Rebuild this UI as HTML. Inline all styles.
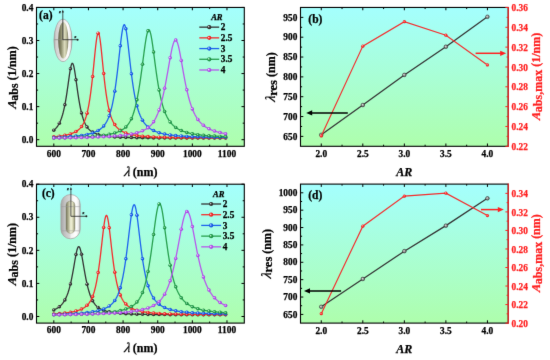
<!DOCTYPE html>
<html><head><meta charset="utf-8"><title>Figure</title>
<style>
html,body{margin:0;padding:0;background:#fff;}
body{width:550px;height:360px;overflow:hidden;}
svg{display:block;}
svg text{font-family:"Liberation Serif", "Times New Roman", serif;stroke:currentColor;stroke-width:0.25px;}
</style></head>
<body>
<svg width="550" height="360" viewBox="0 0 550 360">
<filter id="soft" x="0" y="0" width="550" height="360" filterUnits="userSpaceOnUse" color-interpolation-filters="sRGB"><feConvolveMatrix order="3" kernelMatrix="0.00524 0.06192 0.00524 0.06192 0.73137 0.06192 0.00524 0.06192 0.00524" edgeMode="duplicate" preserveAlpha="true"/></filter>
<g filter="url(#soft)">
<defs>
<linearGradient id="bg" x1="0" y1="0" x2="0" y2="1"><stop offset="0" stop-color="#a4fffe"/><stop offset="1" stop-color="#aefeac"/></linearGradient>
<radialGradient id="mk" cx="0.5" cy="0.5" r="0.55" fx="0.3" fy="0.35"><stop offset="0" stop-color="#d8d8d8"/><stop offset="0.5" stop-color="#333333"/><stop offset="1" stop-color="#303030"/></radialGradient>
<radialGradient id="mr" cx="0.5" cy="0.5" r="0.55" fx="0.3" fy="0.35"><stop offset="0" stop-color="#ffe0e0"/><stop offset="0.5" stop-color="#f42c2c"/><stop offset="1" stop-color="#e01818"/></radialGradient>
<radialGradient id="mb" cx="0.5" cy="0.5" r="0.55" fx="0.3" fy="0.35"><stop offset="0" stop-color="#d0e0ff"/><stop offset="0.5" stop-color="#1d62ee"/><stop offset="1" stop-color="#0c48d0"/></radialGradient>
<radialGradient id="mg" cx="0.5" cy="0.5" r="0.55" fx="0.3" fy="0.35"><stop offset="0" stop-color="#d0f4da"/><stop offset="0.5" stop-color="#27a04e"/><stop offset="1" stop-color="#108038"/></radialGradient>
<radialGradient id="mp" cx="0.5" cy="0.5" r="0.55" fx="0.3" fy="0.35"><stop offset="0" stop-color="#f8e4ff"/><stop offset="0.5" stop-color="#b658ec"/><stop offset="1" stop-color="#9c38dc"/></radialGradient>
<radialGradient id="mk2" cx="0.5" cy="0.5" r="0.55" fx="0.35" fy="0.35"><stop offset="0" stop-color="#e8e8e8"/><stop offset="0.6" stop-color="#8a8a8a"/><stop offset="1" stop-color="#444"/></radialGradient>
<radialGradient id="mr2" cx="0.5" cy="0.5" r="0.55" fx="0.35" fy="0.35"><stop offset="0" stop-color="#ffb0b0"/><stop offset="0.5" stop-color="#ff3030"/><stop offset="1" stop-color="#e81010"/></radialGradient>
<linearGradient id="shell" x1="0" y1="0" x2="1" y2="0"><stop offset="0" stop-color="#aca6a6"/><stop offset="0.12" stop-color="#d2d0d0"/><stop offset="0.45" stop-color="#e6e6e6"/><stop offset="0.78" stop-color="#ffffff"/><stop offset="0.9" stop-color="#eeeeee"/><stop offset="1" stop-color="#a49e9e"/></linearGradient>
<linearGradient id="core" x1="0" y1="0" x2="1" y2="0"><stop offset="0" stop-color="#5e5e46"/><stop offset="0.28" stop-color="#8c8c6c"/><stop offset="0.62" stop-color="#dadabc"/><stop offset="0.8" stop-color="#c2c2a2"/><stop offset="1" stop-color="#7c7c62"/></linearGradient>
<linearGradient id="cshell" x1="0" y1="0" x2="1" y2="0"><stop offset="0" stop-color="#a4a4a4"/><stop offset="0.2" stop-color="#c2c2c2"/><stop offset="0.45" stop-color="#d6d6d6"/><stop offset="0.55" stop-color="#f4f4f4"/><stop offset="0.78" stop-color="#ffffff"/><stop offset="0.9" stop-color="#eeeeee"/><stop offset="1" stop-color="#aaaaaa"/></linearGradient>
<linearGradient id="ccore" x1="0" y1="0" x2="1" y2="0"><stop offset="0" stop-color="#74745a"/><stop offset="0.3" stop-color="#b8b898"/><stop offset="0.55" stop-color="#f4f4dc"/><stop offset="0.75" stop-color="#d8d8b8"/><stop offset="1" stop-color="#8c8c70"/></linearGradient>
</defs>
<rect x="0" y="0" width="550" height="360" fill="#ffffff"/>
<rect x="36.5" y="7.45" width="207.8" height="138.85" fill="url(#bg)"/>
<polyline fill="none" stroke="#333333" stroke-width="1.3" stroke-linejoin="round" points="53.82,130.28 54.16,129.99 54.51,129.68 54.86,129.36 55.2,129.03 55.55,128.67 55.89,128.3 56.24,127.9 56.59,127.49 56.93,127.05 57.28,126.58 57.63,126.09 57.97,125.57 58.32,125.01 58.67,124.43 59.01,123.8 59.36,123.14 59.7,122.44 60.05,121.7 60.4,120.9 60.74,120.06 61.09,119.16 61.44,118.21 61.78,117.2 62.13,116.12 62.48,114.97 62.82,113.75 63.17,112.46 63.51,111.08 63.86,109.63 64.21,108.08 64.55,106.44 64.9,104.71 65.25,102.89 65.59,100.96 65.94,98.94 66.28,96.83 66.63,94.62 66.98,92.33 67.32,89.96 67.67,87.53 68.02,85.06 68.36,82.55 68.71,80.05 69.06,77.57 69.4,75.16 69.75,72.85 70.09,70.7 70.44,68.74 70.79,67.01 71.13,65.57 71.48,64.45 71.83,63.69 72.17,63.3 72.52,63.3 72.87,63.67 73.21,64.41 73.56,65.49 73.9,66.89 74.25,68.57 74.6,70.49 74.94,72.6 75.29,74.86 75.64,77.24 75.98,79.7 76.33,82.19 76.67,84.7 77.02,87.19 77.37,89.64 77.71,92.05 78.06,94.38 78.41,96.65 78.75,98.82 79.1,100.91 79.45,102.91 79.79,104.81 80.14,106.62 80.48,108.34 80.83,109.96 81.18,111.49 81.52,112.94 81.87,114.3 82.22,115.59 82.56,116.79 82.91,117.92 83.25,118.98 83.6,119.97 83.95,120.9 84.29,121.78 84.64,122.59 84.99,123.35 85.33,124.07 85.68,124.74 86.03,125.36 86.37,125.95 86.72,126.49 87.06,127.01 87.41,127.49 87.76,127.94 88.1,128.36 88.45,128.76 88.8,129.14 89.14,129.49 89.49,129.82 89.84,130.14 90.18,130.43 90.53,130.71 90.87,130.98 91.22,131.23 91.57,131.47 91.91,131.7 92.26,131.91 92.61,132.12 92.95,132.31 93.3,132.5 93.65,132.68 93.99,132.85 94.34,133.01 94.68,133.17 95.03,133.32 95.38,133.46 95.72,133.6 96.07,133.73 96.42,133.86 96.76,133.98 97.11,134.09 97.45,134.21 97.8,134.31 98.15,134.42 98.49,134.52 98.84,134.62 99.19,134.71 99.53,134.8 99.88,134.88 100.23,134.97 100.57,135.05 100.92,135.13 101.26,135.2 101.61,135.27 101.96,135.34 102.3,135.41 102.65,135.48 103,135.54 103.34,135.6 103.69,135.66 104.04,135.72 104.38,135.78 104.73,135.83 105.07,135.88 105.42,135.93 105.77,135.98 106.11,136.03 106.46,136.08 106.81,136.12 107.15,136.17 107.5,136.21 107.84,136.25 108.19,136.29 108.54,136.33 108.88,136.37 109.23,136.41 109.58,136.44 109.92,136.48 110.27,136.51 110.62,136.54 110.96,136.58 111.31,136.61 111.65,136.64 112,136.67 112.35,136.7 112.69,136.73 113.04,136.75 113.39,136.78 113.73,136.81 114.08,136.83 114.43,136.86 114.77,136.88 115.12,136.9 115.46,136.93 115.81,136.95 116.16,136.97 116.5,136.99 116.85,137.01 117.2,137.03 117.54,137.05 117.89,137.07 118.23,137.09 118.58,137.11 118.93,137.13 119.27,137.15 119.62,137.16 119.97,137.18 120.31,137.2 120.66,137.21 121.01,137.23 121.35,137.24 121.7,137.26 122.04,137.27 122.39,137.29 122.74,137.3 123.08,137.32 123.43,137.33 123.78,137.34 124.12,137.36 124.47,137.37 124.81,137.38 125.16,137.39 125.51,137.41 125.85,137.42 126.2,137.43 126.55,137.44 126.89,137.45 127.24,137.46 127.59,137.47 127.93,137.48 128.28,137.49 128.62,137.5 128.97,137.51 129.32,137.52 129.66,137.53 130.01,137.54 130.36,137.55 130.7,137.56 131.05,137.56 131.4,137.57 131.74,137.58 132.09,137.59 132.43,137.6 132.78,137.6 133.13,137.61 133.47,137.62 133.82,137.63 134.17,137.63 134.51,137.64 134.86,137.65 135.2,137.65 135.55,137.66 135.9,137.67 136.24,137.67 136.59,137.68 136.94,137.69 137.28,137.69 137.63,137.7 137.98,137.7 138.32,137.71 138.67,137.71 139.01,137.72 139.36,137.73 139.71,137.73 140.05,137.74 140.4,137.74 140.75,137.75 141.09,137.75 141.44,137.76 141.79,137.76 142.13,137.76 142.48,137.77 142.82,137.77 143.17,137.78 143.52,137.78 143.86,137.79 144.21,137.79 144.56,137.79 144.9,137.8 145.25,137.8 145.6,137.81 145.94,137.81 146.29,137.81 146.63,137.82 146.98,137.82 147.33,137.82 147.67,137.83 148.02,137.83 148.37,137.83 148.71,137.84 149.06,137.84 149.4,137.84 149.75,137.85 150.1,137.85 150.44,137.85 150.79,137.85 151.14,137.86 151.48,137.86 151.83,137.86 152.18,137.87 152.52,137.87 152.87,137.87 153.21,137.87 153.56,137.88 153.91,137.88 154.25,137.88 154.6,137.88 154.95,137.88 155.29,137.89 155.64,137.89 155.99,137.89 156.33,137.89 156.68,137.9 157.02,137.9 157.37,137.9 157.72,137.9 158.06,137.9 158.41,137.9 158.76,137.91 159.1,137.91 159.45,137.91 159.79,137.91 160.14,137.91 160.49,137.92 160.83,137.92 161.18,137.92 161.53,137.92 161.87,137.92 162.22,137.92 162.57,137.92 162.91,137.93 163.26,137.93 163.6,137.93 163.95,137.93 164.3,137.93 164.64,137.93 164.99,137.93 165.34,137.93 165.68,137.94 166.03,137.94 166.38,137.94 166.72,137.94 167.07,137.94 167.41,137.94 167.76,137.94 168.11,137.94 168.45,137.94 168.8,137.94 169.15,137.95 169.49,137.95 169.84,137.95 170.18,137.95 170.53,137.95 170.88,137.95 171.22,137.95 171.57,137.95 171.92,137.95 172.26,137.95 172.61,137.95 172.96,137.95 173.3,137.95 173.65,137.96 173.99,137.96 174.34,137.96 174.69,137.96 175.03,137.96 175.38,137.96 175.73,137.96 176.07,137.96 176.42,137.96 176.77,137.96 177.11,137.96 177.46,137.96 177.8,137.96 178.15,137.96 178.5,137.96 178.84,137.96 179.19,137.96 179.54,137.96 179.88,137.96 180.23,137.96 180.57,137.96 180.92,137.96 181.27,137.96 181.61,137.96 181.96,137.96 182.31,137.96 182.65,137.97 183,137.97 183.35,137.97 183.69,137.97 184.04,137.97 184.38,137.97 184.73,137.97 185.08,137.97 185.42,137.97 185.77,137.97 186.12,137.97 186.46,137.97 186.81,137.97 187.16,137.97 187.5,137.97 187.85,137.97 188.19,137.97 188.54,137.97 188.89,137.97 189.23,137.97 189.58,137.97 189.93,137.97 190.27,137.97 190.62,137.97 190.96,137.97 191.31,137.97 191.66,137.97 192,137.97 192.35,137.97 192.7,137.96 193.04,137.96 193.39,137.96 193.74,137.96 194.08,137.96 194.43,137.96 194.77,137.96 195.12,137.96 195.47,137.96 195.81,137.96 196.16,137.96 196.51,137.96 196.85,137.96 197.2,137.96 197.55,137.96 197.89,137.96 198.24,137.96 198.58,137.96 198.93,137.96 199.28,137.96 199.62,137.96 199.97,137.96 200.32,137.96 200.66,137.96 201.01,137.96 201.35,137.96 201.7,137.96 202.05,137.96 202.39,137.96 202.74,137.96 203.09,137.96 203.43,137.96 203.78,137.96 204.13,137.95 204.47,137.95 204.82,137.95 205.16,137.95 205.51,137.95 205.86,137.95 206.2,137.95 206.55,137.95 206.9,137.95 207.24,137.95 207.59,137.95 207.94,137.95 208.28,137.95 208.63,137.95 208.97,137.95 209.32,137.95 209.67,137.95 210.01,137.95 210.36,137.95 210.71,137.94 211.05,137.94 211.4,137.94 211.74,137.94 212.09,137.94 212.44,137.94 212.78,137.94 213.13,137.94 213.48,137.94 213.82,137.94 214.17,137.94 214.52,137.94 214.86,137.94 215.21,137.94 215.55,137.94 215.9,137.94 216.25,137.94 216.59,137.93 216.94,137.93 217.29,137.93 217.63,137.93 217.98,137.93 218.33,137.93 218.67,137.93 219.02,137.93 219.36,137.93 219.71,137.93 220.06,137.93 220.4,137.93 220.75,137.93 221.1,137.93 221.44,137.93 221.79,137.92 222.13,137.92 222.48,137.92 222.83,137.92 223.17,137.92 223.52,137.92 223.87,137.92 224.21,137.92 224.56,137.92 224.91,137.92 225.25,137.92 225.6,137.92 225.94,137.92 226.29,137.91 226.64,137.91 226.98,137.91"/>
<circle cx="53.82" cy="130.28" r="1.75" fill="url(#mk)"/>
<circle cx="59.36" cy="123.14" r="1.75" fill="url(#mk)"/>
<circle cx="64.9" cy="104.71" r="1.75" fill="url(#mk)"/>
<circle cx="70.44" cy="68.74" r="1.75" fill="url(#mk)"/>
<circle cx="75.98" cy="79.7" r="1.75" fill="url(#mk)"/>
<circle cx="81.52" cy="112.94" r="1.75" fill="url(#mk)"/>
<circle cx="87.06" cy="127.01" r="1.75" fill="url(#mk)"/>
<circle cx="92.61" cy="132.12" r="1.75" fill="url(#mk)"/>
<circle cx="98.15" cy="134.42" r="1.75" fill="url(#mk)"/>
<circle cx="103.69" cy="135.66" r="1.75" fill="url(#mk)"/>
<circle cx="109.23" cy="136.41" r="1.75" fill="url(#mk)"/>
<circle cx="114.77" cy="136.88" r="1.75" fill="url(#mk)"/>
<circle cx="120.31" cy="137.2" r="1.75" fill="url(#mk)"/>
<circle cx="125.85" cy="137.42" r="1.75" fill="url(#mk)"/>
<circle cx="131.4" cy="137.57" r="1.75" fill="url(#mk)"/>
<circle cx="136.94" cy="137.69" r="1.75" fill="url(#mk)"/>
<circle cx="142.48" cy="137.77" r="1.75" fill="url(#mk)"/>
<circle cx="148.02" cy="137.83" r="1.75" fill="url(#mk)"/>
<circle cx="153.56" cy="137.88" r="1.75" fill="url(#mk)"/>
<circle cx="159.1" cy="137.91" r="1.75" fill="url(#mk)"/>
<circle cx="164.64" cy="137.93" r="1.75" fill="url(#mk)"/>
<circle cx="170.18" cy="137.95" r="1.75" fill="url(#mk)"/>
<circle cx="175.73" cy="137.96" r="1.75" fill="url(#mk)"/>
<circle cx="181.27" cy="137.96" r="1.75" fill="url(#mk)"/>
<circle cx="186.81" cy="137.97" r="1.75" fill="url(#mk)"/>
<circle cx="192.35" cy="137.97" r="1.75" fill="url(#mk)"/>
<circle cx="197.89" cy="137.96" r="1.75" fill="url(#mk)"/>
<circle cx="203.43" cy="137.96" r="1.75" fill="url(#mk)"/>
<circle cx="208.97" cy="137.95" r="1.75" fill="url(#mk)"/>
<circle cx="214.52" cy="137.94" r="1.75" fill="url(#mk)"/>
<circle cx="220.06" cy="137.93" r="1.75" fill="url(#mk)"/>
<circle cx="225.6" cy="137.92" r="1.75" fill="url(#mk)"/>
<polyline fill="none" stroke="#f42c2c" stroke-width="1.3" stroke-linejoin="round" points="53.82,136.8 54.16,136.77 54.51,136.74 54.86,136.7 55.2,136.67 55.55,136.64 55.89,136.6 56.24,136.57 56.59,136.53 56.93,136.5 57.28,136.46 57.63,136.42 57.97,136.38 58.32,136.34 58.67,136.3 59.01,136.26 59.36,136.21 59.7,136.17 60.05,136.12 60.4,136.08 60.74,136.03 61.09,135.98 61.44,135.93 61.78,135.88 62.13,135.83 62.48,135.77 62.82,135.72 63.17,135.66 63.51,135.6 63.86,135.54 64.21,135.47 64.55,135.41 64.9,135.34 65.25,135.28 65.59,135.21 65.94,135.13 66.28,135.06 66.63,134.98 66.98,134.9 67.32,134.82 67.67,134.74 68.02,134.65 68.36,134.56 68.71,134.47 69.06,134.37 69.4,134.27 69.75,134.17 70.09,134.07 70.44,133.96 70.79,133.84 71.13,133.73 71.48,133.61 71.83,133.48 72.17,133.35 72.52,133.21 72.87,133.07 73.21,132.93 73.56,132.78 73.9,132.62 74.25,132.46 74.6,132.29 74.94,132.11 75.29,131.93 75.64,131.74 75.98,131.54 76.33,131.33 76.67,131.11 77.02,130.88 77.37,130.64 77.71,130.39 78.06,130.13 78.41,129.85 78.75,129.56 79.1,129.25 79.45,128.93 79.79,128.59 80.14,128.23 80.48,127.85 80.83,127.44 81.18,127.02 81.52,126.56 81.87,126.08 82.22,125.56 82.56,125.01 82.91,124.42 83.25,123.8 83.6,123.13 83.95,122.41 84.29,121.64 84.64,120.82 84.99,119.94 85.33,118.99 85.68,117.98 86.03,116.9 86.37,115.74 86.72,114.49 87.06,113.16 87.41,111.74 87.76,110.22 88.1,108.59 88.45,106.86 88.8,105.02 89.14,103.06 89.49,100.98 89.84,98.78 90.18,96.45 90.53,93.99 90.87,91.39 91.22,88.67 91.57,85.82 91.91,82.85 92.26,79.75 92.61,76.54 92.95,73.23 93.3,69.84 93.65,66.38 93.99,62.88 94.34,59.37 94.68,55.88 95.03,52.46 95.38,49.15 95.72,46 96.07,43.08 96.42,40.42 96.76,38.1 97.11,36.17 97.45,34.67 97.8,33.65 98.15,33.13 98.49,33.13 98.84,33.67 99.19,34.72 99.53,36.26 99.88,38.24 100.23,40.62 100.57,43.33 100.92,46.32 101.26,49.51 101.61,52.86 101.96,56.31 102.3,59.8 102.65,63.31 103,66.78 103.34,70.2 103.69,73.54 104.04,76.77 104.38,79.9 104.73,82.9 105.07,85.77 105.42,88.51 105.77,91.12 106.11,93.59 106.46,95.94 106.81,98.15 107.15,100.25 107.5,102.22 107.84,104.08 108.19,105.82 108.54,107.47 108.88,109.01 109.23,110.46 109.58,111.82 109.92,113.1 110.27,114.3 110.62,115.42 110.96,116.47 111.31,117.46 111.65,118.39 112,119.26 112.35,120.08 112.69,120.85 113.04,121.57 113.39,122.25 113.73,122.89 114.08,123.5 114.43,124.07 114.77,124.6 115.12,125.11 115.46,125.59 115.81,126.04 116.16,126.47 116.5,126.88 116.85,127.27 117.2,127.64 117.54,127.99 117.89,128.32 118.23,128.63 118.58,128.94 118.93,129.23 119.27,129.5 119.62,129.76 119.97,130.02 120.31,130.26 120.66,130.49 121.01,130.71 121.35,130.92 121.7,131.12 122.04,131.32 122.39,131.51 122.74,131.69 123.08,131.86 123.43,132.03 123.78,132.19 124.12,132.34 124.47,132.49 124.81,132.63 125.16,132.77 125.51,132.91 125.85,133.03 126.2,133.16 126.55,133.28 126.89,133.4 127.24,133.51 127.59,133.62 127.93,133.72 128.28,133.82 128.62,133.92 128.97,134.01 129.32,134.11 129.66,134.2 130.01,134.28 130.36,134.37 130.7,134.45 131.05,134.53 131.4,134.6 131.74,134.68 132.09,134.75 132.43,134.82 132.78,134.88 133.13,134.95 133.47,135.01 133.82,135.08 134.17,135.14 134.51,135.19 134.86,135.25 135.2,135.31 135.55,135.36 135.9,135.41 136.24,135.46 136.59,135.51 136.94,135.56 137.28,135.61 137.63,135.66 137.98,135.7 138.32,135.74 138.67,135.79 139.01,135.83 139.36,135.87 139.71,135.91 140.05,135.94 140.4,135.98 140.75,136.02 141.09,136.05 141.44,136.09 141.79,136.12 142.13,136.16 142.48,136.19 142.82,136.22 143.17,136.25 143.52,136.28 143.86,136.31 144.21,136.34 144.56,136.37 144.9,136.39 145.25,136.42 145.6,136.45 145.94,136.47 146.29,136.5 146.63,136.52 146.98,136.55 147.33,136.57 147.67,136.59 148.02,136.62 148.37,136.64 148.71,136.66 149.06,136.68 149.4,136.7 149.75,136.72 150.1,136.74 150.44,136.76 150.79,136.78 151.14,136.8 151.48,136.82 151.83,136.83 152.18,136.85 152.52,136.87 152.87,136.89 153.21,136.9 153.56,136.92 153.91,136.93 154.25,136.95 154.6,136.96 154.95,136.98 155.29,136.99 155.64,137.01 155.99,137.02 156.33,137.04 156.68,137.05 157.02,137.06 157.37,137.08 157.72,137.09 158.06,137.1 158.41,137.11 158.76,137.13 159.1,137.14 159.45,137.15 159.79,137.16 160.14,137.17 160.49,137.18 160.83,137.19 161.18,137.2 161.53,137.21 161.87,137.22 162.22,137.23 162.57,137.24 162.91,137.25 163.26,137.26 163.6,137.27 163.95,137.28 164.3,137.29 164.64,137.3 164.99,137.31 165.34,137.32 165.68,137.32 166.03,137.33 166.38,137.34 166.72,137.35 167.07,137.36 167.41,137.36 167.76,137.37 168.11,137.38 168.45,137.39 168.8,137.39 169.15,137.4 169.49,137.41 169.84,137.41 170.18,137.42 170.53,137.43 170.88,137.43 171.22,137.44 171.57,137.45 171.92,137.45 172.26,137.46 172.61,137.46 172.96,137.47 173.3,137.48 173.65,137.48 173.99,137.49 174.34,137.49 174.69,137.5 175.03,137.5 175.38,137.51 175.73,137.51 176.07,137.52 176.42,137.52 176.77,137.53 177.11,137.53 177.46,137.54 177.8,137.54 178.15,137.55 178.5,137.55 178.84,137.56 179.19,137.56 179.54,137.56 179.88,137.57 180.23,137.57 180.57,137.58 180.92,137.58 181.27,137.58 181.61,137.59 181.96,137.59 182.31,137.6 182.65,137.6 183,137.6 183.35,137.61 183.69,137.61 184.04,137.61 184.38,137.62 184.73,137.62 185.08,137.62 185.42,137.63 185.77,137.63 186.12,137.63 186.46,137.64 186.81,137.64 187.16,137.64 187.5,137.64 187.85,137.65 188.19,137.65 188.54,137.65 188.89,137.66 189.23,137.66 189.58,137.66 189.93,137.66 190.27,137.67 190.62,137.67 190.96,137.67 191.31,137.67 191.66,137.68 192,137.68 192.35,137.68 192.7,137.68 193.04,137.68 193.39,137.69 193.74,137.69 194.08,137.69 194.43,137.69 194.77,137.7 195.12,137.7 195.47,137.7 195.81,137.7 196.16,137.7 196.51,137.7 196.85,137.71 197.2,137.71 197.55,137.71 197.89,137.71 198.24,137.71 198.58,137.71 198.93,137.72 199.28,137.72 199.62,137.72 199.97,137.72 200.32,137.72 200.66,137.72 201.01,137.73 201.35,137.73 201.7,137.73 202.05,137.73 202.39,137.73 202.74,137.73 203.09,137.73 203.43,137.73 203.78,137.74 204.13,137.74 204.47,137.74 204.82,137.74 205.16,137.74 205.51,137.74 205.86,137.74 206.2,137.74 206.55,137.75 206.9,137.75 207.24,137.75 207.59,137.75 207.94,137.75 208.28,137.75 208.63,137.75 208.97,137.75 209.32,137.75 209.67,137.75 210.01,137.75 210.36,137.75 210.71,137.76 211.05,137.76 211.4,137.76 211.74,137.76 212.09,137.76 212.44,137.76 212.78,137.76 213.13,137.76 213.48,137.76 213.82,137.76 214.17,137.76 214.52,137.76 214.86,137.76 215.21,137.76 215.55,137.76 215.9,137.77 216.25,137.77 216.59,137.77 216.94,137.77 217.29,137.77 217.63,137.77 217.98,137.77 218.33,137.77 218.67,137.77 219.02,137.77 219.36,137.77 219.71,137.77 220.06,137.77 220.4,137.77 220.75,137.77 221.1,137.77 221.44,137.77 221.79,137.77 222.13,137.77 222.48,137.77 222.83,137.77 223.17,137.77 223.52,137.77 223.87,137.77 224.21,137.77 224.56,137.77 224.91,137.77 225.25,137.77 225.6,137.77 225.94,137.77 226.29,137.77 226.64,137.77 226.98,137.77"/>
<circle cx="53.82" cy="136.8" r="1.75" fill="url(#mr)"/>
<circle cx="59.36" cy="136.21" r="1.75" fill="url(#mr)"/>
<circle cx="64.9" cy="135.34" r="1.75" fill="url(#mr)"/>
<circle cx="70.44" cy="133.96" r="1.75" fill="url(#mr)"/>
<circle cx="75.98" cy="131.54" r="1.75" fill="url(#mr)"/>
<circle cx="81.52" cy="126.56" r="1.75" fill="url(#mr)"/>
<circle cx="87.06" cy="113.16" r="1.75" fill="url(#mr)"/>
<circle cx="92.61" cy="76.54" r="1.75" fill="url(#mr)"/>
<circle cx="98.15" cy="33.13" r="1.75" fill="url(#mr)"/>
<circle cx="103.69" cy="73.54" r="1.75" fill="url(#mr)"/>
<circle cx="109.23" cy="110.46" r="1.75" fill="url(#mr)"/>
<circle cx="114.77" cy="124.6" r="1.75" fill="url(#mr)"/>
<circle cx="120.31" cy="130.26" r="1.75" fill="url(#mr)"/>
<circle cx="125.85" cy="133.03" r="1.75" fill="url(#mr)"/>
<circle cx="131.4" cy="134.6" r="1.75" fill="url(#mr)"/>
<circle cx="136.94" cy="135.56" r="1.75" fill="url(#mr)"/>
<circle cx="142.48" cy="136.19" r="1.75" fill="url(#mr)"/>
<circle cx="148.02" cy="136.62" r="1.75" fill="url(#mr)"/>
<circle cx="153.56" cy="136.92" r="1.75" fill="url(#mr)"/>
<circle cx="159.1" cy="137.14" r="1.75" fill="url(#mr)"/>
<circle cx="164.64" cy="137.3" r="1.75" fill="url(#mr)"/>
<circle cx="170.18" cy="137.42" r="1.75" fill="url(#mr)"/>
<circle cx="175.73" cy="137.51" r="1.75" fill="url(#mr)"/>
<circle cx="181.27" cy="137.58" r="1.75" fill="url(#mr)"/>
<circle cx="186.81" cy="137.64" r="1.75" fill="url(#mr)"/>
<circle cx="192.35" cy="137.68" r="1.75" fill="url(#mr)"/>
<circle cx="197.89" cy="137.71" r="1.75" fill="url(#mr)"/>
<circle cx="203.43" cy="137.73" r="1.75" fill="url(#mr)"/>
<circle cx="208.97" cy="137.75" r="1.75" fill="url(#mr)"/>
<circle cx="214.52" cy="137.76" r="1.75" fill="url(#mr)"/>
<circle cx="220.06" cy="137.77" r="1.75" fill="url(#mr)"/>
<circle cx="225.6" cy="137.77" r="1.75" fill="url(#mr)"/>
<polyline fill="none" stroke="#1d62ee" stroke-width="1.3" stroke-linejoin="round" points="53.82,137.5 54.16,137.49 54.51,137.47 54.86,137.46 55.2,137.45 55.55,137.43 55.89,137.42 56.24,137.4 56.59,137.39 56.93,137.38 57.28,137.36 57.63,137.35 57.97,137.33 58.32,137.32 58.67,137.3 59.01,137.28 59.36,137.27 59.7,137.25 60.05,137.24 60.4,137.22 60.74,137.2 61.09,137.18 61.44,137.17 61.78,137.15 62.13,137.13 62.48,137.11 62.82,137.09 63.17,137.08 63.51,137.06 63.86,137.04 64.21,137.02 64.55,137 64.9,136.98 65.25,136.96 65.59,136.94 65.94,136.91 66.28,136.89 66.63,136.87 66.98,136.85 67.32,136.83 67.67,136.8 68.02,136.78 68.36,136.75 68.71,136.73 69.06,136.71 69.4,136.68 69.75,136.65 70.09,136.63 70.44,136.6 70.79,136.57 71.13,136.55 71.48,136.52 71.83,136.49 72.17,136.46 72.52,136.43 72.87,136.4 73.21,136.37 73.56,136.34 73.9,136.31 74.25,136.27 74.6,136.24 74.94,136.21 75.29,136.17 75.64,136.14 75.98,136.1 76.33,136.06 76.67,136.03 77.02,135.99 77.37,135.95 77.71,135.91 78.06,135.87 78.41,135.83 78.75,135.79 79.1,135.74 79.45,135.7 79.79,135.65 80.14,135.61 80.48,135.56 80.83,135.51 81.18,135.46 81.52,135.41 81.87,135.36 82.22,135.31 82.56,135.25 82.91,135.2 83.25,135.14 83.6,135.08 83.95,135.02 84.29,134.96 84.64,134.9 84.99,134.84 85.33,134.77 85.68,134.71 86.03,134.64 86.37,134.57 86.72,134.49 87.06,134.42 87.41,134.34 87.76,134.27 88.1,134.19 88.45,134.1 88.8,134.02 89.14,133.93 89.49,133.84 89.84,133.75 90.18,133.66 90.53,133.56 90.87,133.46 91.22,133.36 91.57,133.25 91.91,133.14 92.26,133.03 92.61,132.92 92.95,132.8 93.3,132.68 93.65,132.55 93.99,132.42 94.34,132.29 94.68,132.15 95.03,132 95.38,131.86 95.72,131.7 96.07,131.55 96.42,131.38 96.76,131.21 97.11,131.04 97.45,130.86 97.8,130.67 98.15,130.47 98.49,130.27 98.84,130.06 99.19,129.84 99.53,129.61 99.88,129.38 100.23,129.13 100.57,128.87 100.92,128.61 101.26,128.33 101.61,128.03 101.96,127.73 102.3,127.41 102.65,127.07 103,126.72 103.34,126.35 103.69,125.96 104.04,125.55 104.38,125.12 104.73,124.67 105.07,124.19 105.42,123.69 105.77,123.16 106.11,122.6 106.46,122 106.81,121.37 107.15,120.71 107.5,120.01 107.84,119.26 108.19,118.47 108.54,117.64 108.88,116.75 109.23,115.82 109.58,114.82 109.92,113.77 110.27,112.66 110.62,111.49 110.96,110.24 111.31,108.93 111.65,107.54 112,106.08 112.35,104.53 112.69,102.91 113.04,101.19 113.39,99.39 113.73,97.5 114.08,95.52 114.43,93.44 114.77,91.26 115.12,88.99 115.46,86.62 115.81,84.16 116.16,81.6 116.5,78.94 116.85,76.2 117.2,73.37 117.54,70.46 117.89,67.48 118.23,64.44 118.58,61.35 118.93,58.22 119.27,55.08 119.62,51.95 119.97,48.83 120.31,45.77 120.66,42.8 121.01,39.93 121.35,37.21 121.7,34.67 122.04,32.35 122.39,30.28 122.74,28.5 123.08,27.03 123.43,25.9 123.78,25.14 124.12,24.75 124.47,24.75 124.81,25.15 125.16,25.95 125.51,27.13 125.85,28.66 126.2,30.52 126.55,32.67 126.89,35.07 127.24,37.68 127.59,40.47 127.93,43.4 128.28,46.43 128.62,49.52 128.97,52.65 129.32,55.79 129.66,58.91 130.01,62 130.36,65.03 130.7,68 131.05,70.89 131.4,73.69 131.74,76.4 132.09,79.02 132.43,81.53 132.78,83.95 133.13,86.26 133.47,88.48 133.82,90.59 134.17,92.61 134.51,94.54 134.86,96.37 135.2,98.12 135.55,99.78 135.9,101.36 136.24,102.86 136.59,104.29 136.94,105.65 137.28,106.94 137.63,108.17 137.98,109.33 138.32,110.44 138.67,111.49 139.01,112.48 139.36,113.43 139.71,114.34 140.05,115.19 140.4,116.01 140.75,116.79 141.09,117.52 141.44,118.23 141.79,118.9 142.13,119.54 142.48,120.15 142.82,120.73 143.17,121.28 143.52,121.81 143.86,122.32 144.21,122.8 144.56,123.26 144.9,123.7 145.25,124.13 145.6,124.53 145.94,124.92 146.29,125.29 146.63,125.65 146.98,125.99 147.33,126.32 147.67,126.64 148.02,126.94 148.37,127.24 148.71,127.52 149.06,127.79 149.4,128.05 149.75,128.3 150.1,128.55 150.44,128.78 150.79,129.01 151.14,129.22 151.48,129.44 151.83,129.64 152.18,129.84 152.52,130.03 152.87,130.21 153.21,130.39 153.56,130.56 153.91,130.73 154.25,130.89 154.6,131.04 154.95,131.19 155.29,131.34 155.64,131.48 155.99,131.62 156.33,131.75 156.68,131.88 157.02,132.01 157.37,132.13 157.72,132.25 158.06,132.37 158.41,132.48 158.76,132.59 159.1,132.69 159.45,132.8 159.79,132.9 160.14,132.99 160.49,133.09 160.83,133.18 161.18,133.27 161.53,133.36 161.87,133.44 162.22,133.53 162.57,133.61 162.91,133.68 163.26,133.76 163.6,133.84 163.95,133.91 164.3,133.98 164.64,134.05 164.99,134.12 165.34,134.18 165.68,134.25 166.03,134.31 166.38,134.37 166.72,134.43 167.07,134.49 167.41,134.55 167.76,134.6 168.11,134.66 168.45,134.71 168.8,134.76 169.15,134.81 169.49,134.86 169.84,134.91 170.18,134.96 170.53,135 170.88,135.05 171.22,135.09 171.57,135.14 171.92,135.18 172.26,135.22 172.61,135.26 172.96,135.3 173.3,135.34 173.65,135.38 173.99,135.42 174.34,135.45 174.69,135.49 175.03,135.52 175.38,135.56 175.73,135.59 176.07,135.62 176.42,135.66 176.77,135.69 177.11,135.72 177.46,135.75 177.8,135.78 178.15,135.81 178.5,135.84 178.84,135.87 179.19,135.89 179.54,135.92 179.88,135.95 180.23,135.97 180.57,136 180.92,136.02 181.27,136.05 181.61,136.07 181.96,136.1 182.31,136.12 182.65,136.14 183,136.17 183.35,136.19 183.69,136.21 184.04,136.23 184.38,136.25 184.73,136.27 185.08,136.29 185.42,136.31 185.77,136.33 186.12,136.35 186.46,136.37 186.81,136.39 187.16,136.41 187.5,136.42 187.85,136.44 188.19,136.46 188.54,136.48 188.89,136.49 189.23,136.51 189.58,136.52 189.93,136.54 190.27,136.56 190.62,136.57 190.96,136.59 191.31,136.6 191.66,136.62 192,136.63 192.35,136.64 192.7,136.66 193.04,136.67 193.39,136.68 193.74,136.7 194.08,136.71 194.43,136.72 194.77,136.74 195.12,136.75 195.47,136.76 195.81,136.77 196.16,136.78 196.51,136.8 196.85,136.81 197.2,136.82 197.55,136.83 197.89,136.84 198.24,136.85 198.58,136.86 198.93,136.87 199.28,136.88 199.62,136.89 199.97,136.9 200.32,136.91 200.66,136.92 201.01,136.93 201.35,136.94 201.7,136.95 202.05,136.96 202.39,136.97 202.74,136.98 203.09,136.99 203.43,136.99 203.78,137 204.13,137.01 204.47,137.02 204.82,137.03 205.16,137.04 205.51,137.04 205.86,137.05 206.2,137.06 206.55,137.07 206.9,137.07 207.24,137.08 207.59,137.09 207.94,137.09 208.28,137.1 208.63,137.11 208.97,137.11 209.32,137.12 209.67,137.13 210.01,137.13 210.36,137.14 210.71,137.15 211.05,137.15 211.4,137.16 211.74,137.17 212.09,137.17 212.44,137.18 212.78,137.18 213.13,137.19 213.48,137.19 213.82,137.2 214.17,137.21 214.52,137.21 214.86,137.22 215.21,137.22 215.55,137.23 215.9,137.23 216.25,137.24 216.59,137.24 216.94,137.25 217.29,137.25 217.63,137.26 217.98,137.26 218.33,137.26 218.67,137.27 219.02,137.27 219.36,137.28 219.71,137.28 220.06,137.29 220.4,137.29 220.75,137.3 221.1,137.3 221.44,137.3 221.79,137.31 222.13,137.31 222.48,137.32 222.83,137.32 223.17,137.32 223.52,137.33 223.87,137.33 224.21,137.33 224.56,137.34 224.91,137.34 225.25,137.34 225.6,137.35 225.94,137.35 226.29,137.35 226.64,137.36 226.98,137.36"/>
<circle cx="53.82" cy="137.5" r="1.75" fill="url(#mb)"/>
<circle cx="59.36" cy="137.27" r="1.75" fill="url(#mb)"/>
<circle cx="64.9" cy="136.98" r="1.75" fill="url(#mb)"/>
<circle cx="70.44" cy="136.6" r="1.75" fill="url(#mb)"/>
<circle cx="75.98" cy="136.1" r="1.75" fill="url(#mb)"/>
<circle cx="81.52" cy="135.41" r="1.75" fill="url(#mb)"/>
<circle cx="87.06" cy="134.42" r="1.75" fill="url(#mb)"/>
<circle cx="92.61" cy="132.92" r="1.75" fill="url(#mb)"/>
<circle cx="98.15" cy="130.47" r="1.75" fill="url(#mb)"/>
<circle cx="103.69" cy="125.96" r="1.75" fill="url(#mb)"/>
<circle cx="109.23" cy="115.82" r="1.75" fill="url(#mb)"/>
<circle cx="114.77" cy="91.26" r="1.75" fill="url(#mb)"/>
<circle cx="120.31" cy="45.77" r="1.75" fill="url(#mb)"/>
<circle cx="125.85" cy="28.66" r="1.75" fill="url(#mb)"/>
<circle cx="131.4" cy="73.69" r="1.75" fill="url(#mb)"/>
<circle cx="136.94" cy="105.65" r="1.75" fill="url(#mb)"/>
<circle cx="142.48" cy="120.15" r="1.75" fill="url(#mb)"/>
<circle cx="148.02" cy="126.94" r="1.75" fill="url(#mb)"/>
<circle cx="153.56" cy="130.56" r="1.75" fill="url(#mb)"/>
<circle cx="159.1" cy="132.69" r="1.75" fill="url(#mb)"/>
<circle cx="164.64" cy="134.05" r="1.75" fill="url(#mb)"/>
<circle cx="170.18" cy="134.96" r="1.75" fill="url(#mb)"/>
<circle cx="175.73" cy="135.59" r="1.75" fill="url(#mb)"/>
<circle cx="181.27" cy="136.05" r="1.75" fill="url(#mb)"/>
<circle cx="186.81" cy="136.39" r="1.75" fill="url(#mb)"/>
<circle cx="192.35" cy="136.64" r="1.75" fill="url(#mb)"/>
<circle cx="197.89" cy="136.84" r="1.75" fill="url(#mb)"/>
<circle cx="203.43" cy="136.99" r="1.75" fill="url(#mb)"/>
<circle cx="208.97" cy="137.11" r="1.75" fill="url(#mb)"/>
<circle cx="214.52" cy="137.21" r="1.75" fill="url(#mb)"/>
<circle cx="220.06" cy="137.29" r="1.75" fill="url(#mb)"/>
<circle cx="225.6" cy="137.35" r="1.75" fill="url(#mb)"/>
<polyline fill="none" stroke="#27a04e" stroke-width="1.3" stroke-linejoin="round" points="53.82,137.95 54.16,137.94 54.51,137.93 54.86,137.92 55.2,137.92 55.55,137.91 55.89,137.9 56.24,137.9 56.59,137.89 56.93,137.88 57.28,137.87 57.63,137.87 57.97,137.86 58.32,137.85 58.67,137.84 59.01,137.84 59.36,137.83 59.7,137.82 60.05,137.81 60.4,137.81 60.74,137.8 61.09,137.79 61.44,137.78 61.78,137.77 62.13,137.76 62.48,137.76 62.82,137.75 63.17,137.74 63.51,137.73 63.86,137.72 64.21,137.71 64.55,137.7 64.9,137.69 65.25,137.69 65.59,137.68 65.94,137.67 66.28,137.66 66.63,137.65 66.98,137.64 67.32,137.63 67.67,137.62 68.02,137.61 68.36,137.6 68.71,137.59 69.06,137.58 69.4,137.57 69.75,137.56 70.09,137.55 70.44,137.53 70.79,137.52 71.13,137.51 71.48,137.5 71.83,137.49 72.17,137.48 72.52,137.47 72.87,137.46 73.21,137.44 73.56,137.43 73.9,137.42 74.25,137.41 74.6,137.39 74.94,137.38 75.29,137.37 75.64,137.36 75.98,137.34 76.33,137.33 76.67,137.32 77.02,137.3 77.37,137.29 77.71,137.27 78.06,137.26 78.41,137.25 78.75,137.23 79.1,137.22 79.45,137.2 79.79,137.19 80.14,137.17 80.48,137.16 80.83,137.14 81.18,137.12 81.52,137.11 81.87,137.09 82.22,137.08 82.56,137.06 82.91,137.04 83.25,137.02 83.6,137.01 83.95,136.99 84.29,136.97 84.64,136.95 84.99,136.93 85.33,136.91 85.68,136.9 86.03,136.88 86.37,136.86 86.72,136.84 87.06,136.82 87.41,136.79 87.76,136.77 88.1,136.75 88.45,136.73 88.8,136.71 89.14,136.69 89.49,136.66 89.84,136.64 90.18,136.62 90.53,136.59 90.87,136.57 91.22,136.54 91.57,136.52 91.91,136.49 92.26,136.47 92.61,136.44 92.95,136.41 93.3,136.39 93.65,136.36 93.99,136.33 94.34,136.3 94.68,136.27 95.03,136.24 95.38,136.21 95.72,136.18 96.07,136.15 96.42,136.12 96.76,136.09 97.11,136.05 97.45,136.02 97.8,135.99 98.15,135.95 98.49,135.91 98.84,135.88 99.19,135.84 99.53,135.8 99.88,135.76 100.23,135.73 100.57,135.69 100.92,135.64 101.26,135.6 101.61,135.56 101.96,135.52 102.3,135.47 102.65,135.43 103,135.38 103.34,135.33 103.69,135.29 104.04,135.24 104.38,135.19 104.73,135.13 105.07,135.08 105.42,135.03 105.77,134.97 106.11,134.92 106.46,134.86 106.81,134.8 107.15,134.74 107.5,134.68 107.84,134.62 108.19,134.55 108.54,134.49 108.88,134.42 109.23,134.35 109.58,134.28 109.92,134.21 110.27,134.13 110.62,134.06 110.96,133.98 111.31,133.9 111.65,133.82 112,133.73 112.35,133.65 112.69,133.56 113.04,133.47 113.39,133.37 113.73,133.28 114.08,133.18 114.43,133.08 114.77,132.97 115.12,132.87 115.46,132.76 115.81,132.64 116.16,132.53 116.5,132.41 116.85,132.28 117.2,132.15 117.54,132.02 117.89,131.89 118.23,131.75 118.58,131.6 118.93,131.45 119.27,131.3 119.62,131.14 119.97,130.97 120.31,130.8 120.66,130.63 121.01,130.44 121.35,130.25 121.7,130.06 122.04,129.85 122.39,129.64 122.74,129.42 123.08,129.18 123.43,128.94 123.78,128.69 124.12,128.43 124.47,128.16 124.81,127.87 125.16,127.57 125.51,127.26 125.85,126.93 126.2,126.59 126.55,126.23 126.89,125.85 127.24,125.45 127.59,125.03 127.93,124.59 128.28,124.13 128.62,123.64 128.97,123.12 129.32,122.58 129.66,122.01 130.01,121.41 130.36,120.77 130.7,120.1 131.05,119.4 131.4,118.65 131.74,117.87 132.09,117.04 132.43,116.17 132.78,115.25 133.13,114.28 133.47,113.26 133.82,112.19 134.17,111.06 134.51,109.88 134.86,108.64 135.2,107.33 135.55,105.96 135.9,104.53 136.24,103.03 136.59,101.46 136.94,99.83 137.28,98.12 137.63,96.34 137.98,94.49 138.32,92.57 138.67,90.57 139.01,88.5 139.36,86.36 139.71,84.15 140.05,81.87 140.4,79.53 140.75,77.12 141.09,74.66 141.44,72.14 141.79,69.58 142.13,66.97 142.48,64.34 142.82,61.69 143.17,59.03 143.52,56.37 143.86,53.74 144.21,51.14 144.56,48.59 144.9,46.12 145.25,43.74 145.6,41.48 145.94,39.36 146.29,37.4 146.63,35.63 146.98,34.06 147.33,32.72 147.67,31.62 148.02,30.79 148.37,30.22 148.71,29.93 149.06,29.94 149.4,30.24 149.75,30.84 150.1,31.72 150.44,32.89 150.79,34.3 151.14,35.96 151.48,37.82 151.83,39.87 152.18,42.08 152.52,44.42 152.87,46.87 153.21,49.41 153.56,52 153.91,54.63 154.25,57.28 154.6,59.93 154.95,62.57 155.29,65.18 155.64,67.75 155.99,70.28 156.33,72.75 156.68,75.15 157.02,77.49 157.37,79.76 157.72,81.96 158.06,84.08 158.41,86.13 158.76,88.1 159.1,89.99 159.45,91.82 159.79,93.56 160.14,95.24 160.49,96.85 160.83,98.39 161.18,99.86 161.53,101.27 161.87,102.62 162.22,103.91 162.57,105.14 162.91,106.32 163.26,107.45 163.6,108.53 163.95,109.56 164.3,110.54 164.64,111.48 164.99,112.38 165.34,113.23 165.68,114.05 166.03,114.84 166.38,115.59 166.72,116.3 167.07,116.99 167.41,117.65 167.76,118.27 168.11,118.88 168.45,119.45 168.8,120 169.15,120.53 169.49,121.04 169.84,121.52 170.18,121.99 170.53,122.44 170.88,122.87 171.22,123.28 171.57,123.68 171.92,124.06 172.26,124.43 172.61,124.78 172.96,125.12 173.3,125.45 173.65,125.76 173.99,126.07 174.34,126.36 174.69,126.64 175.03,126.92 175.38,127.18 175.73,127.43 176.07,127.68 176.42,127.92 176.77,128.15 177.11,128.37 177.46,128.58 177.8,128.79 178.15,128.99 178.5,129.19 178.84,129.38 179.19,129.56 179.54,129.74 179.88,129.91 180.23,130.08 180.57,130.24 180.92,130.4 181.27,130.55 181.61,130.7 181.96,130.84 182.31,130.98 182.65,131.12 183,131.25 183.35,131.38 183.69,131.5 184.04,131.63 184.38,131.74 184.73,131.86 185.08,131.97 185.42,132.08 185.77,132.19 186.12,132.29 186.46,132.39 186.81,132.49 187.16,132.58 187.5,132.68 187.85,132.77 188.19,132.86 188.54,132.94 188.89,133.03 189.23,133.11 189.58,133.19 189.93,133.27 190.27,133.35 190.62,133.42 190.96,133.49 191.31,133.57 191.66,133.64 192,133.7 192.35,133.77 192.7,133.84 193.04,133.9 193.39,133.96 193.74,134.02 194.08,134.08 194.43,134.14 194.77,134.2 195.12,134.25 195.47,134.31 195.81,134.36 196.16,134.41 196.51,134.46 196.85,134.51 197.2,134.56 197.55,134.61 197.89,134.66 198.24,134.7 198.58,134.75 198.93,134.79 199.28,134.83 199.62,134.88 199.97,134.92 200.32,134.96 200.66,135 201.01,135.04 201.35,135.07 201.7,135.11 202.05,135.15 202.39,135.19 202.74,135.22 203.09,135.26 203.43,135.29 203.78,135.32 204.13,135.36 204.47,135.39 204.82,135.42 205.16,135.45 205.51,135.48 205.86,135.51 206.2,135.54 206.55,135.57 206.9,135.6 207.24,135.62 207.59,135.65 207.94,135.68 208.28,135.7 208.63,135.73 208.97,135.76 209.32,135.78 209.67,135.8 210.01,135.83 210.36,135.85 210.71,135.88 211.05,135.9 211.4,135.92 211.74,135.94 212.09,135.96 212.44,135.99 212.78,136.01 213.13,136.03 213.48,136.05 213.82,136.07 214.17,136.09 214.52,136.11 214.86,136.13 215.21,136.14 215.55,136.16 215.9,136.18 216.25,136.2 216.59,136.22 216.94,136.23 217.29,136.25 217.63,136.27 217.98,136.28 218.33,136.3 218.67,136.32 219.02,136.33 219.36,136.35 219.71,136.36 220.06,136.38 220.4,136.39 220.75,136.41 221.1,136.42 221.44,136.43 221.79,136.45 222.13,136.46 222.48,136.47 222.83,136.49 223.17,136.5 223.52,136.51 223.87,136.53 224.21,136.54 224.56,136.55 224.91,136.56 225.25,136.58 225.6,136.59 225.94,136.6 226.29,136.61 226.64,136.62 226.98,136.63"/>
<circle cx="53.82" cy="137.95" r="1.75" fill="url(#mg)"/>
<circle cx="59.36" cy="137.83" r="1.75" fill="url(#mg)"/>
<circle cx="64.9" cy="137.69" r="1.75" fill="url(#mg)"/>
<circle cx="70.44" cy="137.53" r="1.75" fill="url(#mg)"/>
<circle cx="75.98" cy="137.34" r="1.75" fill="url(#mg)"/>
<circle cx="81.52" cy="137.11" r="1.75" fill="url(#mg)"/>
<circle cx="87.06" cy="136.82" r="1.75" fill="url(#mg)"/>
<circle cx="92.61" cy="136.44" r="1.75" fill="url(#mg)"/>
<circle cx="98.15" cy="135.95" r="1.75" fill="url(#mg)"/>
<circle cx="103.69" cy="135.29" r="1.75" fill="url(#mg)"/>
<circle cx="109.23" cy="134.35" r="1.75" fill="url(#mg)"/>
<circle cx="114.77" cy="132.97" r="1.75" fill="url(#mg)"/>
<circle cx="120.31" cy="130.8" r="1.75" fill="url(#mg)"/>
<circle cx="125.85" cy="126.93" r="1.75" fill="url(#mg)"/>
<circle cx="131.4" cy="118.65" r="1.75" fill="url(#mg)"/>
<circle cx="136.94" cy="99.83" r="1.75" fill="url(#mg)"/>
<circle cx="142.48" cy="64.34" r="1.75" fill="url(#mg)"/>
<circle cx="148.02" cy="30.79" r="1.75" fill="url(#mg)"/>
<circle cx="153.56" cy="52" r="1.75" fill="url(#mg)"/>
<circle cx="159.1" cy="89.99" r="1.75" fill="url(#mg)"/>
<circle cx="164.64" cy="111.48" r="1.75" fill="url(#mg)"/>
<circle cx="170.18" cy="121.99" r="1.75" fill="url(#mg)"/>
<circle cx="175.73" cy="127.43" r="1.75" fill="url(#mg)"/>
<circle cx="181.27" cy="130.55" r="1.75" fill="url(#mg)"/>
<circle cx="186.81" cy="132.49" r="1.75" fill="url(#mg)"/>
<circle cx="192.35" cy="133.77" r="1.75" fill="url(#mg)"/>
<circle cx="197.89" cy="134.66" r="1.75" fill="url(#mg)"/>
<circle cx="203.43" cy="135.29" r="1.75" fill="url(#mg)"/>
<circle cx="208.97" cy="135.76" r="1.75" fill="url(#mg)"/>
<circle cx="214.52" cy="136.11" r="1.75" fill="url(#mg)"/>
<circle cx="220.06" cy="136.38" r="1.75" fill="url(#mg)"/>
<circle cx="225.6" cy="136.59" r="1.75" fill="url(#mg)"/>
<polyline fill="none" stroke="#b658ec" stroke-width="1.3" stroke-linejoin="round" points="53.82,138.09 54.16,138.09 54.51,138.08 54.86,138.08 55.2,138.07 55.55,138.07 55.89,138.06 56.24,138.06 56.59,138.05 56.93,138.05 57.28,138.04 57.63,138.04 57.97,138.03 58.32,138.03 58.67,138.02 59.01,138.02 59.36,138.01 59.7,138.01 60.05,138 60.4,138 60.74,137.99 61.09,137.98 61.44,137.98 61.78,137.97 62.13,137.97 62.48,137.96 62.82,137.96 63.17,137.95 63.51,137.95 63.86,137.94 64.21,137.93 64.55,137.93 64.9,137.92 65.25,137.92 65.59,137.91 65.94,137.9 66.28,137.9 66.63,137.89 66.98,137.89 67.32,137.88 67.67,137.87 68.02,137.87 68.36,137.86 68.71,137.86 69.06,137.85 69.4,137.84 69.75,137.84 70.09,137.83 70.44,137.82 70.79,137.82 71.13,137.81 71.48,137.8 71.83,137.8 72.17,137.79 72.52,137.78 72.87,137.78 73.21,137.77 73.56,137.76 73.9,137.75 74.25,137.75 74.6,137.74 74.94,137.73 75.29,137.73 75.64,137.72 75.98,137.71 76.33,137.7 76.67,137.7 77.02,137.69 77.37,137.68 77.71,137.67 78.06,137.66 78.41,137.66 78.75,137.65 79.1,137.64 79.45,137.63 79.79,137.62 80.14,137.62 80.48,137.61 80.83,137.6 81.18,137.59 81.52,137.58 81.87,137.57 82.22,137.56 82.56,137.56 82.91,137.55 83.25,137.54 83.6,137.53 83.95,137.52 84.29,137.51 84.64,137.5 84.99,137.49 85.33,137.48 85.68,137.47 86.03,137.46 86.37,137.45 86.72,137.44 87.06,137.43 87.41,137.42 87.76,137.41 88.1,137.4 88.45,137.39 88.8,137.38 89.14,137.37 89.49,137.36 89.84,137.35 90.18,137.34 90.53,137.33 90.87,137.31 91.22,137.3 91.57,137.29 91.91,137.28 92.26,137.27 92.61,137.26 92.95,137.24 93.3,137.23 93.65,137.22 93.99,137.21 94.34,137.2 94.68,137.18 95.03,137.17 95.38,137.16 95.72,137.14 96.07,137.13 96.42,137.12 96.76,137.1 97.11,137.09 97.45,137.08 97.8,137.06 98.15,137.05 98.49,137.03 98.84,137.02 99.19,137 99.53,136.99 99.88,136.97 100.23,136.96 100.57,136.94 100.92,136.93 101.26,136.91 101.61,136.9 101.96,136.88 102.3,136.86 102.65,136.85 103,136.83 103.34,136.81 103.69,136.8 104.04,136.78 104.38,136.76 104.73,136.74 105.07,136.72 105.42,136.71 105.77,136.69 106.11,136.67 106.46,136.65 106.81,136.63 107.15,136.61 107.5,136.59 107.84,136.57 108.19,136.55 108.54,136.53 108.88,136.51 109.23,136.48 109.58,136.46 109.92,136.44 110.27,136.42 110.62,136.4 110.96,136.37 111.31,136.35 111.65,136.32 112,136.3 112.35,136.28 112.69,136.25 113.04,136.23 113.39,136.2 113.73,136.17 114.08,136.15 114.43,136.12 114.77,136.09 115.12,136.07 115.46,136.04 115.81,136.01 116.16,135.98 116.5,135.95 116.85,135.92 117.2,135.89 117.54,135.86 117.89,135.83 118.23,135.8 118.58,135.76 118.93,135.73 119.27,135.7 119.62,135.66 119.97,135.63 120.31,135.59 120.66,135.56 121.01,135.52 121.35,135.48 121.7,135.45 122.04,135.41 122.39,135.37 122.74,135.33 123.08,135.29 123.43,135.25 123.78,135.2 124.12,135.16 124.47,135.12 124.81,135.07 125.16,135.03 125.51,134.98 125.85,134.93 126.2,134.88 126.55,134.84 126.89,134.79 127.24,134.73 127.59,134.68 127.93,134.63 128.28,134.58 128.62,134.52 128.97,134.46 129.32,134.41 129.66,134.35 130.01,134.29 130.36,134.23 130.7,134.16 131.05,134.1 131.4,134.04 131.74,133.97 132.09,133.9 132.43,133.83 132.78,133.76 133.13,133.69 133.47,133.61 133.82,133.54 134.17,133.46 134.51,133.38 134.86,133.3 135.2,133.22 135.55,133.13 135.9,133.04 136.24,132.96 136.59,132.86 136.94,132.77 137.28,132.67 137.63,132.57 137.98,132.47 138.32,132.37 138.67,132.26 139.01,132.15 139.36,132.04 139.71,131.93 140.05,131.81 140.4,131.68 140.75,131.56 141.09,131.43 141.44,131.3 141.79,131.16 142.13,131.02 142.48,130.87 142.82,130.72 143.17,130.57 143.52,130.41 143.86,130.24 144.21,130.07 144.56,129.89 144.9,129.71 145.25,129.52 145.6,129.33 145.94,129.12 146.29,128.91 146.63,128.69 146.98,128.47 147.33,128.23 147.67,127.98 148.02,127.73 148.37,127.46 148.71,127.19 149.06,126.9 149.4,126.6 149.75,126.29 150.1,125.96 150.44,125.62 150.79,125.27 151.14,124.9 151.48,124.51 151.83,124.11 152.18,123.68 152.52,123.24 152.87,122.78 153.21,122.3 153.56,121.8 153.91,121.27 154.25,120.73 154.6,120.15 154.95,119.55 155.29,118.93 155.64,118.27 155.99,117.59 156.33,116.88 156.68,116.14 157.02,115.36 157.37,114.55 157.72,113.71 158.06,112.83 158.41,111.92 158.76,110.97 159.1,109.98 159.45,108.95 159.79,107.88 160.14,106.77 160.49,105.61 160.83,104.42 161.18,103.18 161.53,101.89 161.87,100.57 162.22,99.19 162.57,97.78 162.91,96.31 163.26,94.81 163.6,93.25 163.95,91.66 164.3,90.02 164.64,88.33 164.99,86.61 165.34,84.84 165.68,83.04 166.03,81.2 166.38,79.32 166.72,77.42 167.07,75.49 167.41,73.53 167.76,71.56 168.11,69.57 168.45,67.58 168.8,65.58 169.15,63.59 169.49,61.62 169.84,59.66 170.18,57.74 170.53,55.86 170.88,54.04 171.22,52.27 171.57,50.58 171.92,48.98 172.26,47.48 172.61,46.08 172.96,44.81 173.3,43.66 173.65,42.66 173.99,41.81 174.34,41.12 174.69,40.6 175.03,40.25 175.38,40.07 175.73,40.07 176.07,40.25 176.42,40.63 176.77,41.18 177.11,41.91 177.46,42.81 177.8,43.87 178.15,45.08 178.5,46.42 178.84,47.88 179.19,49.45 179.54,51.12 179.88,52.87 180.23,54.69 180.57,56.57 180.92,58.49 181.27,60.44 181.61,62.42 181.96,64.4 182.31,66.39 182.65,68.38 183,70.35 183.35,72.3 183.69,74.23 184.04,76.12 184.38,77.99 184.73,79.81 185.08,81.6 185.42,83.34 185.77,85.04 186.12,86.7 186.46,88.31 186.81,89.87 187.16,91.39 187.5,92.86 187.85,94.28 188.19,95.65 188.54,96.98 188.89,98.27 189.23,99.51 189.58,100.71 189.93,101.87 190.27,102.98 190.62,104.06 190.96,105.09 191.31,106.09 191.66,107.06 192,107.98 192.35,108.88 192.7,109.74 193.04,110.57 193.39,111.37 193.74,112.14 194.08,112.88 194.43,113.59 194.77,114.28 195.12,114.94 195.47,115.57 195.81,116.19 196.16,116.78 196.51,117.35 196.85,117.9 197.2,118.43 197.55,118.94 197.89,119.43 198.24,119.9 198.58,120.36 198.93,120.8 199.28,121.23 199.62,121.64 199.97,122.03 200.32,122.42 200.66,122.79 201.01,123.14 201.35,123.49 201.7,123.82 202.05,124.15 202.39,124.46 202.74,124.76 203.09,125.05 203.43,125.34 203.78,125.61 204.13,125.88 204.47,126.13 204.82,126.38 205.16,126.62 205.51,126.86 205.86,127.08 206.2,127.3 206.55,127.52 206.9,127.73 207.24,127.93 207.59,128.12 207.94,128.31 208.28,128.5 208.63,128.68 208.97,128.85 209.32,129.02 209.67,129.19 210.01,129.35 210.36,129.51 210.71,129.66 211.05,129.81 211.4,129.95 211.74,130.09 212.09,130.23 212.44,130.36 212.78,130.49 213.13,130.62 213.48,130.75 213.82,130.87 214.17,130.98 214.52,131.1 214.86,131.21 215.21,131.32 215.55,131.43 215.9,131.53 216.25,131.64 216.59,131.73 216.94,131.83 217.29,131.93 217.63,132.02 217.98,132.11 218.33,132.2 218.67,132.29 219.02,132.37 219.36,132.45 219.71,132.54 220.06,132.61 220.4,132.69 220.75,132.77 221.1,132.84 221.44,132.92 221.79,132.99 222.13,133.06 222.48,133.12 222.83,133.19 223.17,133.26 223.52,133.32 223.87,133.38 224.21,133.45 224.56,133.51 224.91,133.57 225.25,133.62 225.6,133.68 225.94,133.74 226.29,133.79 226.64,133.84 226.98,133.9"/>
<circle cx="53.82" cy="138.09" r="1.75" fill="url(#mp)"/>
<circle cx="59.36" cy="138.01" r="1.75" fill="url(#mp)"/>
<circle cx="64.9" cy="137.92" r="1.75" fill="url(#mp)"/>
<circle cx="70.44" cy="137.82" r="1.75" fill="url(#mp)"/>
<circle cx="75.98" cy="137.71" r="1.75" fill="url(#mp)"/>
<circle cx="81.52" cy="137.58" r="1.75" fill="url(#mp)"/>
<circle cx="87.06" cy="137.43" r="1.75" fill="url(#mp)"/>
<circle cx="92.61" cy="137.26" r="1.75" fill="url(#mp)"/>
<circle cx="98.15" cy="137.05" r="1.75" fill="url(#mp)"/>
<circle cx="103.69" cy="136.8" r="1.75" fill="url(#mp)"/>
<circle cx="109.23" cy="136.48" r="1.75" fill="url(#mp)"/>
<circle cx="114.77" cy="136.09" r="1.75" fill="url(#mp)"/>
<circle cx="120.31" cy="135.59" r="1.75" fill="url(#mp)"/>
<circle cx="125.85" cy="134.93" r="1.75" fill="url(#mp)"/>
<circle cx="131.4" cy="134.04" r="1.75" fill="url(#mp)"/>
<circle cx="136.94" cy="132.77" r="1.75" fill="url(#mp)"/>
<circle cx="142.48" cy="130.87" r="1.75" fill="url(#mp)"/>
<circle cx="148.02" cy="127.73" r="1.75" fill="url(#mp)"/>
<circle cx="153.56" cy="121.8" r="1.75" fill="url(#mp)"/>
<circle cx="159.1" cy="109.98" r="1.75" fill="url(#mp)"/>
<circle cx="164.64" cy="88.33" r="1.75" fill="url(#mp)"/>
<circle cx="170.18" cy="57.74" r="1.75" fill="url(#mp)"/>
<circle cx="175.73" cy="40.07" r="1.75" fill="url(#mp)"/>
<circle cx="181.27" cy="60.44" r="1.75" fill="url(#mp)"/>
<circle cx="186.81" cy="89.87" r="1.75" fill="url(#mp)"/>
<circle cx="192.35" cy="108.88" r="1.75" fill="url(#mp)"/>
<circle cx="197.89" cy="119.43" r="1.75" fill="url(#mp)"/>
<circle cx="203.43" cy="125.34" r="1.75" fill="url(#mp)"/>
<circle cx="208.97" cy="128.85" r="1.75" fill="url(#mp)"/>
<circle cx="214.52" cy="131.1" r="1.75" fill="url(#mp)"/>
<circle cx="220.06" cy="132.61" r="1.75" fill="url(#mp)"/>
<circle cx="225.6" cy="133.68" r="1.75" fill="url(#mp)"/>
<ellipse cx="63" cy="40.4" rx="9.1" ry="21.2" fill="url(#shell)" stroke="#9c9494" stroke-width="0.6"/>
<ellipse cx="63.3" cy="40.4" rx="5.1" ry="18.1" fill="url(#core)"/>
<line x1="54.2" y1="39.7" x2="62.8" y2="39.7" stroke="#8a8a80" stroke-width="0.7"/>
<line x1="62.8" y1="11" x2="62.8" y2="39.7" stroke="#2a2a2a" stroke-width="0.8"/>
<line x1="62.8" y1="39.7" x2="77.5" y2="39.7" stroke="#2a2a2a" stroke-width="0.8"/>
<path d="M62.8 9.6L61.8 12.5L63.8 12.5Z" fill="#202020"/>
<circle cx="77.6" cy="39.7" r="1.0" fill="#202020"/>
<text x="59.9" y="13.2" font-size="4.8" text-anchor="middle" fill="#222" font-style="italic" stroke="none">z</text>
<text x="75.2" y="37.6" font-size="4.8" text-anchor="middle" fill="#222" font-style="italic" stroke="none">x</text>
<path d="M53.82 146.3L53.82 143.5M53.82 7.45L53.82 10.25M88.45 146.3L88.45 143.5M88.45 7.45L88.45 10.25M123.08 146.3L123.08 143.5M123.08 7.45L123.08 10.25M157.72 146.3L157.72 143.5M157.72 7.45L157.72 10.25M192.35 146.3L192.35 143.5M192.35 7.45L192.35 10.25M226.98 146.3L226.98 143.5M226.98 7.45L226.98 10.25M71.13 146.3L71.13 144.7M71.13 7.45L71.13 9.05M105.77 146.3L105.77 144.7M105.77 7.45L105.77 9.05M140.4 146.3L140.4 144.7M140.4 7.45L140.4 9.05M175.03 146.3L175.03 144.7M175.03 7.45L175.03 9.05M209.67 146.3L209.67 144.7M209.67 7.45L209.67 9.05M36.5 139.69L39.3 139.69M244.3 139.69L241.5 139.69M36.5 106.63L39.3 106.63M244.3 106.63L241.5 106.63M36.5 73.57L39.3 73.57M244.3 73.57L241.5 73.57M36.5 40.51L39.3 40.51M244.3 40.51L241.5 40.51M36.5 7.45L39.3 7.45M244.3 7.45L241.5 7.45M36.5 123.16L38.1 123.16M244.3 123.16L242.7 123.16M36.5 90.1L38.1 90.1M244.3 90.1L242.7 90.1M36.5 57.04L38.1 57.04M244.3 57.04L242.7 57.04M36.5 23.98L38.1 23.98M244.3 23.98L242.7 23.98" stroke="#000" stroke-width="1.0" fill="none"/>
<rect x="36.5" y="7.45" width="207.8" height="138.85" fill="none" stroke="#000" stroke-width="1.1"/>
<text x="53.82" y="157.1" font-size="9.4" text-anchor="middle" fill="#000" color="#000" font-weight="bold">600</text>
<text x="88.45" y="157.1" font-size="9.4" text-anchor="middle" fill="#000" color="#000" font-weight="bold">700</text>
<text x="123.08" y="157.1" font-size="9.4" text-anchor="middle" fill="#000" color="#000" font-weight="bold">800</text>
<text x="157.72" y="157.1" font-size="9.4" text-anchor="middle" fill="#000" color="#000" font-weight="bold">900</text>
<text x="192.35" y="157.1" font-size="9.4" text-anchor="middle" fill="#000" color="#000" font-weight="bold">1000</text>
<text x="226.98" y="157.1" font-size="9.4" text-anchor="middle" fill="#000" color="#000" font-weight="bold">1100</text>
<text x="33.3" y="142.89" font-size="9.3" text-anchor="end" fill="#000" color="#000" font-weight="bold">0.0</text>
<text x="33.3" y="109.83" font-size="9.3" text-anchor="end" fill="#000" color="#000" font-weight="bold">0.1</text>
<text x="33.3" y="76.77" font-size="9.3" text-anchor="end" fill="#000" color="#000" font-weight="bold">0.2</text>
<text x="33.3" y="43.71" font-size="9.3" text-anchor="end" fill="#000" color="#000" font-weight="bold">0.3</text>
<text x="33.3" y="10.65" font-size="9.3" text-anchor="end" fill="#000" color="#000" font-weight="bold">0.4</text>
<text x="39.1" y="19.05" font-size="11.5" text-anchor="start" fill="#000" color="#000" font-weight="bold">(a)</text>
<text transform="translate(124.08 175.8) skewX(-12)" font-size="13.5" font-weight="normal" font-style="italic">&#955;</text>
<text x="129.85" y="175.8" font-size="12" font-weight="bold" xml:space="preserve"> (nm)</text>
<g transform="translate(15.8 77.47) rotate(-90)" fill="#000" color="#000" font-weight="bold">
<text transform="translate(-31.17 0) skewX(-8)" font-size="12" font-style="italic">A</text>
<text x="-23.17" y="1.7" font-size="12" xml:space="preserve">abs</text>
<text x="-5.82" y="0" font-size="12" xml:space="preserve"> (1/nm)</text>
</g>
<text x="216.8" y="19.75" font-size="8.5" text-anchor="middle" fill="#000" color="#000" font-weight="bold"><tspan font-style="italic">AR</tspan></text>
<line x1="199.3" y1="27.15" x2="219.2" y2="27.15" stroke="#333333" stroke-width="1.3"/>
<circle cx="209.25" cy="27.15" r="2.1" fill="url(#mk)"/>
<text x="220.8" y="30.35" font-size="9.3" text-anchor="start" fill="#000" color="#000" font-weight="bold">2</text>
<line x1="199.3" y1="37.86" x2="219.2" y2="37.86" stroke="#f42c2c" stroke-width="1.3"/>
<circle cx="209.25" cy="37.86" r="2.1" fill="url(#mr)"/>
<text x="220.8" y="41.06" font-size="9.3" text-anchor="start" fill="#000" color="#000" font-weight="bold">2.5</text>
<line x1="199.3" y1="48.57" x2="219.2" y2="48.57" stroke="#1d62ee" stroke-width="1.3"/>
<circle cx="209.25" cy="48.57" r="2.1" fill="url(#mb)"/>
<text x="220.8" y="51.77" font-size="9.3" text-anchor="start" fill="#000" color="#000" font-weight="bold">3</text>
<line x1="199.3" y1="59.28" x2="219.2" y2="59.28" stroke="#27a04e" stroke-width="1.3"/>
<circle cx="209.25" cy="59.28" r="2.1" fill="url(#mg)"/>
<text x="220.8" y="62.48" font-size="9.3" text-anchor="start" fill="#000" color="#000" font-weight="bold">3.5</text>
<line x1="199.3" y1="69.99" x2="219.2" y2="69.99" stroke="#b658ec" stroke-width="1.3"/>
<circle cx="209.25" cy="69.99" r="2.1" fill="url(#mp)"/>
<text x="220.8" y="73.19" font-size="9.3" text-anchor="start" fill="#000" color="#000" font-weight="bold">4</text>
<rect x="36.5" y="184.2" width="207.8" height="138.9" fill="url(#bg)"/>
<polyline fill="none" stroke="#333333" stroke-width="1.3" stroke-linejoin="round" points="53.82,309.91 54.16,309.77 54.51,309.61 54.86,309.46 55.2,309.29 55.55,309.12 55.89,308.94 56.24,308.76 56.59,308.57 56.93,308.37 57.28,308.16 57.63,307.94 57.97,307.71 58.32,307.48 58.67,307.23 59.01,306.97 59.36,306.7 59.7,306.41 60.05,306.11 60.4,305.8 60.74,305.47 61.09,305.13 61.44,304.77 61.78,304.39 62.13,303.99 62.48,303.57 62.82,303.13 63.17,302.66 63.51,302.17 63.86,301.65 64.21,301.11 64.55,300.53 64.9,299.93 65.25,299.29 65.59,298.61 65.94,297.89 66.28,297.14 66.63,296.34 66.98,295.5 67.32,294.61 67.67,293.67 68.02,292.68 68.36,291.64 68.71,290.53 69.06,289.37 69.4,288.15 69.75,286.86 70.09,285.51 70.44,284.08 70.79,282.59 71.13,281.03 71.48,279.4 71.83,277.71 72.17,275.94 72.52,274.11 72.87,272.23 73.21,270.29 73.56,268.32 73.9,266.31 74.25,264.28 74.6,262.25 74.94,260.24 75.29,258.27 75.64,256.37 75.98,254.55 76.33,252.86 76.67,251.31 77.02,249.95 77.37,248.78 77.71,247.85 78.06,247.17 78.41,246.75 78.75,246.61 79.1,246.74 79.45,247.15 79.79,247.81 80.14,248.71 80.48,249.84 80.83,251.17 81.18,252.68 81.52,254.33 81.87,256.11 82.22,257.99 82.56,259.93 82.91,261.92 83.25,263.94 83.6,265.97 83.95,267.99 84.29,269.98 84.64,271.94 84.99,273.86 85.33,275.73 85.68,277.54 86.03,279.29 86.37,280.97 86.72,282.59 87.06,284.15 87.41,285.63 87.76,287.05 88.1,288.4 88.45,289.69 88.8,290.91 89.14,292.07 89.49,293.17 89.84,294.21 90.18,295.19 90.53,296.13 90.87,297.01 91.22,297.84 91.57,298.62 91.91,299.37 92.26,300.06 92.61,300.72 92.95,301.34 93.3,301.93 93.65,302.48 93.99,303 94.34,303.49 94.68,303.95 95.03,304.39 95.38,304.8 95.72,305.19 96.07,305.56 96.42,305.91 96.76,306.24 97.11,306.55 97.45,306.84 97.8,307.13 98.15,307.39 98.49,307.64 98.84,307.88 99.19,308.11 99.53,308.33 99.88,308.54 100.23,308.74 100.57,308.92 100.92,309.11 101.26,309.28 101.61,309.44 101.96,309.6 102.3,309.75 102.65,309.9 103,310.04 103.34,310.17 103.69,310.3 104.04,310.43 104.38,310.55 104.73,310.66 105.07,310.77 105.42,310.88 105.77,310.98 106.11,311.08 106.46,311.18 106.81,311.27 107.15,311.36 107.5,311.45 107.84,311.53 108.19,311.61 108.54,311.69 108.88,311.77 109.23,311.84 109.58,311.91 109.92,311.98 110.27,312.05 110.62,312.11 110.96,312.18 111.31,312.24 111.65,312.3 112,312.35 112.35,312.41 112.69,312.46 113.04,312.52 113.39,312.57 113.73,312.62 114.08,312.66 114.43,312.71 114.77,312.76 115.12,312.8 115.46,312.84 115.81,312.89 116.16,312.93 116.5,312.97 116.85,313 117.2,313.04 117.54,313.08 117.89,313.11 118.23,313.15 118.58,313.18 118.93,313.21 119.27,313.25 119.62,313.28 119.97,313.31 120.31,313.34 120.66,313.37 121.01,313.4 121.35,313.42 121.7,313.45 122.04,313.48 122.39,313.5 122.74,313.53 123.08,313.55 123.43,313.58 123.78,313.6 124.12,313.62 124.47,313.64 124.81,313.67 125.16,313.69 125.51,313.71 125.85,313.73 126.2,313.75 126.55,313.77 126.89,313.79 127.24,313.8 127.59,313.82 127.93,313.84 128.28,313.86 128.62,313.87 128.97,313.89 129.32,313.91 129.66,313.92 130.01,313.94 130.36,313.95 130.7,313.97 131.05,313.98 131.4,314 131.74,314.01 132.09,314.03 132.43,314.04 132.78,314.05 133.13,314.06 133.47,314.08 133.82,314.09 134.17,314.1 134.51,314.11 134.86,314.13 135.2,314.14 135.55,314.15 135.9,314.16 136.24,314.17 136.59,314.18 136.94,314.19 137.28,314.2 137.63,314.21 137.98,314.22 138.32,314.23 138.67,314.24 139.01,314.25 139.36,314.26 139.71,314.27 140.05,314.27 140.4,314.28 140.75,314.29 141.09,314.3 141.44,314.31 141.79,314.32 142.13,314.32 142.48,314.33 142.82,314.34 143.17,314.35 143.52,314.35 143.86,314.36 144.21,314.37 144.56,314.37 144.9,314.38 145.25,314.39 145.6,314.39 145.94,314.4 146.29,314.41 146.63,314.41 146.98,314.42 147.33,314.42 147.67,314.43 148.02,314.43 148.37,314.44 148.71,314.45 149.06,314.45 149.4,314.46 149.75,314.46 150.1,314.47 150.44,314.47 150.79,314.48 151.14,314.48 151.48,314.49 151.83,314.49 152.18,314.49 152.52,314.5 152.87,314.5 153.21,314.51 153.56,314.51 153.91,314.52 154.25,314.52 154.6,314.52 154.95,314.53 155.29,314.53 155.64,314.54 155.99,314.54 156.33,314.54 156.68,314.55 157.02,314.55 157.37,314.55 157.72,314.56 158.06,314.56 158.41,314.56 158.76,314.57 159.1,314.57 159.45,314.57 159.79,314.58 160.14,314.58 160.49,314.58 160.83,314.59 161.18,314.59 161.53,314.59 161.87,314.59 162.22,314.6 162.57,314.6 162.91,314.6 163.26,314.6 163.6,314.61 163.95,314.61 164.3,314.61 164.64,314.61 164.99,314.62 165.34,314.62 165.68,314.62 166.03,314.62 166.38,314.62 166.72,314.63 167.07,314.63 167.41,314.63 167.76,314.63 168.11,314.63 168.45,314.64 168.8,314.64 169.15,314.64 169.49,314.64 169.84,314.64 170.18,314.65 170.53,314.65 170.88,314.65 171.22,314.65 171.57,314.65 171.92,314.65 172.26,314.66 172.61,314.66 172.96,314.66 173.3,314.66 173.65,314.66 173.99,314.66 174.34,314.66 174.69,314.67 175.03,314.67 175.38,314.67 175.73,314.67 176.07,314.67 176.42,314.67 176.77,314.67 177.11,314.67 177.46,314.67 177.8,314.68 178.15,314.68 178.5,314.68 178.84,314.68 179.19,314.68 179.54,314.68 179.88,314.68 180.23,314.68 180.57,314.68 180.92,314.68 181.27,314.69 181.61,314.69 181.96,314.69 182.31,314.69 182.65,314.69 183,314.69 183.35,314.69 183.69,314.69 184.04,314.69 184.38,314.69 184.73,314.69 185.08,314.69 185.42,314.69 185.77,314.69 186.12,314.7 186.46,314.7 186.81,314.7 187.16,314.7 187.5,314.7 187.85,314.7 188.19,314.7 188.54,314.7 188.89,314.7 189.23,314.7 189.58,314.7 189.93,314.7 190.27,314.7 190.62,314.7 190.96,314.7 191.31,314.7 191.66,314.7 192,314.7 192.35,314.7 192.7,314.7 193.04,314.7 193.39,314.7 193.74,314.7 194.08,314.7 194.43,314.7 194.77,314.7 195.12,314.7 195.47,314.7 195.81,314.7 196.16,314.7 196.51,314.7 196.85,314.7 197.2,314.7 197.55,314.71 197.89,314.71 198.24,314.71 198.58,314.71 198.93,314.71 199.28,314.71 199.62,314.71 199.97,314.71 200.32,314.71 200.66,314.71 201.01,314.71 201.35,314.71 201.7,314.71 202.05,314.7 202.39,314.7 202.74,314.7 203.09,314.7 203.43,314.7 203.78,314.7 204.13,314.7 204.47,314.7 204.82,314.7 205.16,314.7 205.51,314.7 205.86,314.7 206.2,314.7 206.55,314.7 206.9,314.7 207.24,314.7 207.59,314.7 207.94,314.7 208.28,314.7 208.63,314.7 208.97,314.7 209.32,314.7 209.67,314.7 210.01,314.7 210.36,314.7 210.71,314.7 211.05,314.7 211.4,314.7 211.74,314.7 212.09,314.7 212.44,314.7 212.78,314.7 213.13,314.7 213.48,314.7 213.82,314.7 214.17,314.7 214.52,314.7 214.86,314.7 215.21,314.7 215.55,314.69 215.9,314.69 216.25,314.69 216.59,314.69 216.94,314.69 217.29,314.69 217.63,314.69 217.98,314.69 218.33,314.69 218.67,314.69 219.02,314.69 219.36,314.69 219.71,314.69 220.06,314.69 220.4,314.69 220.75,314.69 221.1,314.69 221.44,314.69 221.79,314.69 222.13,314.69 222.48,314.69 222.83,314.68 223.17,314.68 223.52,314.68 223.87,314.68 224.21,314.68 224.56,314.68 224.91,314.68 225.25,314.68 225.6,314.68 225.94,314.68 226.29,314.68 226.64,314.68 226.98,314.68"/>
<circle cx="53.82" cy="309.91" r="1.75" fill="url(#mk)"/>
<circle cx="59.36" cy="306.7" r="1.75" fill="url(#mk)"/>
<circle cx="64.9" cy="299.93" r="1.75" fill="url(#mk)"/>
<circle cx="70.44" cy="284.08" r="1.75" fill="url(#mk)"/>
<circle cx="75.98" cy="254.55" r="1.75" fill="url(#mk)"/>
<circle cx="81.52" cy="254.33" r="1.75" fill="url(#mk)"/>
<circle cx="87.06" cy="284.15" r="1.75" fill="url(#mk)"/>
<circle cx="92.61" cy="300.72" r="1.75" fill="url(#mk)"/>
<circle cx="98.15" cy="307.39" r="1.75" fill="url(#mk)"/>
<circle cx="103.69" cy="310.3" r="1.75" fill="url(#mk)"/>
<circle cx="109.23" cy="311.84" r="1.75" fill="url(#mk)"/>
<circle cx="114.77" cy="312.76" r="1.75" fill="url(#mk)"/>
<circle cx="120.31" cy="313.34" r="1.75" fill="url(#mk)"/>
<circle cx="125.85" cy="313.73" r="1.75" fill="url(#mk)"/>
<circle cx="131.4" cy="314" r="1.75" fill="url(#mk)"/>
<circle cx="136.94" cy="314.19" r="1.75" fill="url(#mk)"/>
<circle cx="142.48" cy="314.33" r="1.75" fill="url(#mk)"/>
<circle cx="148.02" cy="314.43" r="1.75" fill="url(#mk)"/>
<circle cx="153.56" cy="314.51" r="1.75" fill="url(#mk)"/>
<circle cx="159.1" cy="314.57" r="1.75" fill="url(#mk)"/>
<circle cx="164.64" cy="314.61" r="1.75" fill="url(#mk)"/>
<circle cx="170.18" cy="314.65" r="1.75" fill="url(#mk)"/>
<circle cx="175.73" cy="314.67" r="1.75" fill="url(#mk)"/>
<circle cx="181.27" cy="314.69" r="1.75" fill="url(#mk)"/>
<circle cx="186.81" cy="314.7" r="1.75" fill="url(#mk)"/>
<circle cx="192.35" cy="314.7" r="1.75" fill="url(#mk)"/>
<circle cx="197.89" cy="314.71" r="1.75" fill="url(#mk)"/>
<circle cx="203.43" cy="314.7" r="1.75" fill="url(#mk)"/>
<circle cx="208.97" cy="314.7" r="1.75" fill="url(#mk)"/>
<circle cx="214.52" cy="314.7" r="1.75" fill="url(#mk)"/>
<circle cx="220.06" cy="314.69" r="1.75" fill="url(#mk)"/>
<circle cx="225.6" cy="314.68" r="1.75" fill="url(#mk)"/>
<polyline fill="none" stroke="#f42c2c" stroke-width="1.3" stroke-linejoin="round" points="53.82,314 54.16,313.98 54.51,313.95 54.86,313.93 55.2,313.91 55.55,313.89 55.89,313.87 56.24,313.84 56.59,313.82 56.93,313.79 57.28,313.77 57.63,313.75 57.97,313.72 58.32,313.69 58.67,313.67 59.01,313.64 59.36,313.61 59.7,313.58 60.05,313.55 60.4,313.52 60.74,313.49 61.09,313.46 61.44,313.43 61.78,313.4 62.13,313.37 62.48,313.33 62.82,313.3 63.17,313.26 63.51,313.23 63.86,313.19 64.21,313.15 64.55,313.12 64.9,313.08 65.25,313.04 65.59,313 65.94,312.95 66.28,312.91 66.63,312.87 66.98,312.82 67.32,312.77 67.67,312.73 68.02,312.68 68.36,312.63 68.71,312.58 69.06,312.52 69.4,312.47 69.75,312.42 70.09,312.36 70.44,312.3 70.79,312.24 71.13,312.18 71.48,312.12 71.83,312.05 72.17,311.98 72.52,311.91 72.87,311.84 73.21,311.77 73.56,311.7 73.9,311.62 74.25,311.54 74.6,311.46 74.94,311.37 75.29,311.29 75.64,311.2 75.98,311.1 76.33,311.01 76.67,310.91 77.02,310.81 77.37,310.7 77.71,310.59 78.06,310.48 78.41,310.37 78.75,310.25 79.1,310.12 79.45,309.99 79.79,309.86 80.14,309.72 80.48,309.58 80.83,309.43 81.18,309.28 81.52,309.12 81.87,308.95 82.22,308.78 82.56,308.6 82.91,308.41 83.25,308.22 83.6,308.01 83.95,307.8 84.29,307.58 84.64,307.35 84.99,307.1 85.33,306.85 85.68,306.58 86.03,306.3 86.37,306.01 86.72,305.7 87.06,305.37 87.41,305.03 87.76,304.66 88.1,304.28 88.45,303.87 88.8,303.44 89.14,302.99 89.49,302.5 89.84,301.99 90.18,301.44 90.53,300.86 90.87,300.23 91.22,299.57 91.57,298.87 91.91,298.12 92.26,297.32 92.61,296.47 92.95,295.56 93.3,294.59 93.65,293.55 93.99,292.45 94.34,291.28 94.68,290.03 95.03,288.7 95.38,287.29 95.72,285.79 96.07,284.2 96.42,282.52 96.76,280.74 97.11,278.86 97.45,276.88 97.8,274.79 98.15,272.6 98.49,270.3 98.84,267.89 99.19,265.38 99.53,262.77 99.88,260.06 100.23,257.25 100.57,254.36 100.92,251.4 101.26,248.38 101.61,245.32 101.96,242.23 102.3,239.15 102.65,236.09 103,233.1 103.34,230.21 103.69,227.46 104.04,224.9 104.38,222.55 104.73,220.48 105.07,218.72 105.42,217.3 105.77,216.26 106.11,215.63 106.46,215.42 106.81,215.63 107.15,216.28 107.5,217.35 107.84,218.81 108.19,220.62 108.54,222.74 108.88,225.14 109.23,227.75 109.58,230.55 109.92,233.47 110.27,236.49 110.62,239.55 110.96,242.63 111.31,245.7 111.65,248.74 112,251.72 112.35,254.63 112.69,257.45 113.04,260.18 113.39,262.8 113.73,265.33 114.08,267.74 114.43,270.05 114.77,272.24 115.12,274.33 115.46,276.32 115.81,278.2 116.16,279.98 116.5,281.67 116.85,283.27 117.2,284.77 117.54,286.19 117.89,287.54 118.23,288.8 118.58,290 118.93,291.12 119.27,292.18 119.62,293.18 119.97,294.12 120.31,295.01 120.66,295.85 121.01,296.64 121.35,297.38 121.7,298.08 122.04,298.74 122.39,299.37 122.74,299.96 123.08,300.52 123.43,301.05 123.78,301.55 124.12,302.03 124.47,302.48 124.81,302.9 125.16,303.31 125.51,303.7 125.85,304.06 126.2,304.41 126.55,304.75 126.89,305.07 127.24,305.37 127.59,305.66 127.93,305.94 128.28,306.2 128.62,306.45 128.97,306.7 129.32,306.93 129.66,307.15 130.01,307.37 130.36,307.58 130.7,307.77 131.05,307.96 131.4,308.15 131.74,308.32 132.09,308.49 132.43,308.66 132.78,308.81 133.13,308.97 133.47,309.11 133.82,309.25 134.17,309.39 134.51,309.52 134.86,309.65 135.2,309.77 135.55,309.89 135.9,310.01 136.24,310.12 136.59,310.23 136.94,310.33 137.28,310.43 137.63,310.53 137.98,310.63 138.32,310.72 138.67,310.81 139.01,310.9 139.36,310.98 139.71,311.06 140.05,311.14 140.4,311.22 140.75,311.29 141.09,311.36 141.44,311.43 141.79,311.5 142.13,311.57 142.48,311.63 142.82,311.7 143.17,311.76 143.52,311.82 143.86,311.87 144.21,311.93 144.56,311.99 144.9,312.04 145.25,312.09 145.6,312.14 145.94,312.19 146.29,312.24 146.63,312.29 146.98,312.33 147.33,312.38 147.67,312.42 148.02,312.46 148.37,312.5 148.71,312.54 149.06,312.58 149.4,312.62 149.75,312.66 150.1,312.7 150.44,312.73 150.79,312.77 151.14,312.8 151.48,312.83 151.83,312.87 152.18,312.9 152.52,312.93 152.87,312.96 153.21,312.99 153.56,313.02 153.91,313.05 154.25,313.08 154.6,313.1 154.95,313.13 155.29,313.16 155.64,313.18 155.99,313.21 156.33,313.23 156.68,313.25 157.02,313.28 157.37,313.3 157.72,313.32 158.06,313.34 158.41,313.37 158.76,313.39 159.1,313.41 159.45,313.43 159.79,313.45 160.14,313.47 160.49,313.49 160.83,313.5 161.18,313.52 161.53,313.54 161.87,313.56 162.22,313.58 162.57,313.59 162.91,313.61 163.26,313.63 163.6,313.64 163.95,313.66 164.3,313.67 164.64,313.69 164.99,313.7 165.34,313.72 165.68,313.73 166.03,313.74 166.38,313.76 166.72,313.77 167.07,313.78 167.41,313.8 167.76,313.81 168.11,313.82 168.45,313.84 168.8,313.85 169.15,313.86 169.49,313.87 169.84,313.88 170.18,313.89 170.53,313.9 170.88,313.92 171.22,313.93 171.57,313.94 171.92,313.95 172.26,313.96 172.61,313.97 172.96,313.98 173.3,313.99 173.65,313.99 173.99,314 174.34,314.01 174.69,314.02 175.03,314.03 175.38,314.04 175.73,314.05 176.07,314.06 176.42,314.06 176.77,314.07 177.11,314.08 177.46,314.09 177.8,314.1 178.15,314.1 178.5,314.11 178.84,314.12 179.19,314.12 179.54,314.13 179.88,314.14 180.23,314.15 180.57,314.15 180.92,314.16 181.27,314.17 181.61,314.17 181.96,314.18 182.31,314.18 182.65,314.19 183,314.2 183.35,314.2 183.69,314.21 184.04,314.21 184.38,314.22 184.73,314.22 185.08,314.23 185.42,314.23 185.77,314.24 186.12,314.25 186.46,314.25 186.81,314.26 187.16,314.26 187.5,314.26 187.85,314.27 188.19,314.27 188.54,314.28 188.89,314.28 189.23,314.29 189.58,314.29 189.93,314.3 190.27,314.3 190.62,314.3 190.96,314.31 191.31,314.31 191.66,314.32 192,314.32 192.35,314.32 192.7,314.33 193.04,314.33 193.39,314.34 193.74,314.34 194.08,314.34 194.43,314.35 194.77,314.35 195.12,314.35 195.47,314.36 195.81,314.36 196.16,314.36 196.51,314.37 196.85,314.37 197.2,314.37 197.55,314.38 197.89,314.38 198.24,314.38 198.58,314.38 198.93,314.39 199.28,314.39 199.62,314.39 199.97,314.39 200.32,314.4 200.66,314.4 201.01,314.4 201.35,314.41 201.7,314.41 202.05,314.41 202.39,314.41 202.74,314.41 203.09,314.42 203.43,314.42 203.78,314.42 204.13,314.42 204.47,314.43 204.82,314.43 205.16,314.43 205.51,314.43 205.86,314.43 206.2,314.44 206.55,314.44 206.9,314.44 207.24,314.44 207.59,314.44 207.94,314.45 208.28,314.45 208.63,314.45 208.97,314.45 209.32,314.45 209.67,314.45 210.01,314.46 210.36,314.46 210.71,314.46 211.05,314.46 211.4,314.46 211.74,314.46 212.09,314.46 212.44,314.47 212.78,314.47 213.13,314.47 213.48,314.47 213.82,314.47 214.17,314.47 214.52,314.47 214.86,314.48 215.21,314.48 215.55,314.48 215.9,314.48 216.25,314.48 216.59,314.48 216.94,314.48 217.29,314.48 217.63,314.48 217.98,314.49 218.33,314.49 218.67,314.49 219.02,314.49 219.36,314.49 219.71,314.49 220.06,314.49 220.4,314.49 220.75,314.49 221.1,314.49 221.44,314.5 221.79,314.5 222.13,314.5 222.48,314.5 222.83,314.5 223.17,314.5 223.52,314.5 223.87,314.5 224.21,314.5 224.56,314.5 224.91,314.5 225.25,314.5 225.6,314.5 225.94,314.5 226.29,314.5 226.64,314.51 226.98,314.51"/>
<circle cx="53.82" cy="314" r="1.75" fill="url(#mr)"/>
<circle cx="59.36" cy="313.61" r="1.75" fill="url(#mr)"/>
<circle cx="64.9" cy="313.08" r="1.75" fill="url(#mr)"/>
<circle cx="70.44" cy="312.3" r="1.75" fill="url(#mr)"/>
<circle cx="75.98" cy="311.1" r="1.75" fill="url(#mr)"/>
<circle cx="81.52" cy="309.12" r="1.75" fill="url(#mr)"/>
<circle cx="87.06" cy="305.37" r="1.75" fill="url(#mr)"/>
<circle cx="92.61" cy="296.47" r="1.75" fill="url(#mr)"/>
<circle cx="98.15" cy="272.6" r="1.75" fill="url(#mr)"/>
<circle cx="103.69" cy="227.46" r="1.75" fill="url(#mr)"/>
<circle cx="109.23" cy="227.75" r="1.75" fill="url(#mr)"/>
<circle cx="114.77" cy="272.24" r="1.75" fill="url(#mr)"/>
<circle cx="120.31" cy="295.01" r="1.75" fill="url(#mr)"/>
<circle cx="125.85" cy="304.06" r="1.75" fill="url(#mr)"/>
<circle cx="131.4" cy="308.15" r="1.75" fill="url(#mr)"/>
<circle cx="136.94" cy="310.33" r="1.75" fill="url(#mr)"/>
<circle cx="142.48" cy="311.63" r="1.75" fill="url(#mr)"/>
<circle cx="148.02" cy="312.46" r="1.75" fill="url(#mr)"/>
<circle cx="153.56" cy="313.02" r="1.75" fill="url(#mr)"/>
<circle cx="159.1" cy="313.41" r="1.75" fill="url(#mr)"/>
<circle cx="164.64" cy="313.69" r="1.75" fill="url(#mr)"/>
<circle cx="170.18" cy="313.89" r="1.75" fill="url(#mr)"/>
<circle cx="175.73" cy="314.05" r="1.75" fill="url(#mr)"/>
<circle cx="181.27" cy="314.17" r="1.75" fill="url(#mr)"/>
<circle cx="186.81" cy="314.26" r="1.75" fill="url(#mr)"/>
<circle cx="192.35" cy="314.32" r="1.75" fill="url(#mr)"/>
<circle cx="197.89" cy="314.38" r="1.75" fill="url(#mr)"/>
<circle cx="203.43" cy="314.42" r="1.75" fill="url(#mr)"/>
<circle cx="208.97" cy="314.45" r="1.75" fill="url(#mr)"/>
<circle cx="214.52" cy="314.47" r="1.75" fill="url(#mr)"/>
<circle cx="220.06" cy="314.49" r="1.75" fill="url(#mr)"/>
<circle cx="225.6" cy="314.5" r="1.75" fill="url(#mr)"/>
<polyline fill="none" stroke="#1d62ee" stroke-width="1.3" stroke-linejoin="round" points="53.82,314.52 54.16,314.51 54.51,314.5 54.86,314.49 55.2,314.48 55.55,314.47 55.89,314.46 56.24,314.45 56.59,314.44 56.93,314.43 57.28,314.42 57.63,314.41 57.97,314.4 58.32,314.38 58.67,314.37 59.01,314.36 59.36,314.35 59.7,314.34 60.05,314.33 60.4,314.31 60.74,314.3 61.09,314.29 61.44,314.28 61.78,314.27 62.13,314.25 62.48,314.24 62.82,314.23 63.17,314.21 63.51,314.2 63.86,314.19 64.21,314.17 64.55,314.16 64.9,314.14 65.25,314.13 65.59,314.12 65.94,314.1 66.28,314.09 66.63,314.07 66.98,314.06 67.32,314.04 67.67,314.02 68.02,314.01 68.36,313.99 68.71,313.98 69.06,313.96 69.4,313.94 69.75,313.93 70.09,313.91 70.44,313.89 70.79,313.87 71.13,313.85 71.48,313.84 71.83,313.82 72.17,313.8 72.52,313.78 72.87,313.76 73.21,313.74 73.56,313.72 73.9,313.7 74.25,313.68 74.6,313.66 74.94,313.64 75.29,313.61 75.64,313.59 75.98,313.57 76.33,313.55 76.67,313.52 77.02,313.5 77.37,313.47 77.71,313.45 78.06,313.43 78.41,313.4 78.75,313.37 79.1,313.35 79.45,313.32 79.79,313.29 80.14,313.27 80.48,313.24 80.83,313.21 81.18,313.18 81.52,313.15 81.87,313.12 82.22,313.09 82.56,313.06 82.91,313.03 83.25,312.99 83.6,312.96 83.95,312.93 84.29,312.89 84.64,312.86 84.99,312.82 85.33,312.78 85.68,312.75 86.03,312.71 86.37,312.67 86.72,312.63 87.06,312.59 87.41,312.55 87.76,312.51 88.1,312.46 88.45,312.42 88.8,312.37 89.14,312.33 89.49,312.28 89.84,312.23 90.18,312.18 90.53,312.13 90.87,312.08 91.22,312.03 91.57,311.98 91.91,311.92 92.26,311.87 92.61,311.81 92.95,311.75 93.3,311.69 93.65,311.63 93.99,311.57 94.34,311.5 94.68,311.44 95.03,311.37 95.38,311.3 95.72,311.23 96.07,311.16 96.42,311.08 96.76,311 97.11,310.93 97.45,310.85 97.8,310.76 98.15,310.68 98.49,310.59 98.84,310.5 99.19,310.41 99.53,310.31 99.88,310.22 100.23,310.12 100.57,310.02 100.92,309.91 101.26,309.8 101.61,309.69 101.96,309.57 102.3,309.46 102.65,309.33 103,309.21 103.34,309.08 103.69,308.94 104.04,308.81 104.38,308.66 104.73,308.52 105.07,308.36 105.42,308.21 105.77,308.04 106.11,307.88 106.46,307.7 106.81,307.52 107.15,307.33 107.5,307.14 107.84,306.94 108.19,306.73 108.54,306.52 108.88,306.29 109.23,306.06 109.58,305.81 109.92,305.56 110.27,305.29 110.62,305.02 110.96,304.73 111.31,304.43 111.65,304.11 112,303.78 112.35,303.44 112.69,303.07 113.04,302.69 113.39,302.29 113.73,301.87 114.08,301.43 114.43,300.96 114.77,300.47 115.12,299.96 115.46,299.41 115.81,298.84 116.16,298.23 116.5,297.59 116.85,296.91 117.2,296.2 117.54,295.44 117.89,294.64 118.23,293.8 118.58,292.91 118.93,291.97 119.27,290.98 119.62,289.93 119.97,288.82 120.31,287.65 120.66,286.42 121.01,285.12 121.35,283.75 121.7,282.32 122.04,280.8 122.39,279.22 122.74,277.55 123.08,275.8 123.43,273.97 123.78,272.06 124.12,270.06 124.47,267.97 124.81,265.8 125.16,263.54 125.51,261.19 125.85,258.76 126.2,256.25 126.55,253.66 126.89,251 127.24,248.26 127.59,245.47 127.93,242.62 128.28,239.74 128.62,236.82 128.97,233.9 129.32,230.97 129.66,228.08 130.01,225.23 130.36,222.45 130.7,219.77 131.05,217.22 131.4,214.83 131.74,212.62 132.09,210.64 132.43,208.9 132.78,207.43 133.13,206.27 133.47,205.42 133.82,204.9 134.17,204.73 134.51,204.91 134.86,205.45 135.2,206.33 135.55,207.55 135.9,209.07 136.24,210.88 136.59,212.94 136.94,215.22 137.28,217.69 137.63,220.3 137.98,223.04 138.32,225.86 138.67,228.74 139.01,231.66 139.36,234.58 139.71,237.49 140.05,240.38 140.4,243.21 140.75,245.99 141.09,248.71 141.44,251.35 141.79,253.91 142.13,256.38 142.48,258.77 142.82,261.06 143.17,263.27 143.52,265.39 143.86,267.41 144.21,269.35 144.56,271.21 144.9,272.98 145.25,274.67 145.6,276.29 145.94,277.82 146.29,279.29 146.63,280.69 146.98,282.02 147.33,283.28 147.67,284.49 148.02,285.64 148.37,286.73 148.71,287.77 149.06,288.76 149.4,289.7 149.75,290.6 150.1,291.46 150.44,292.27 150.79,293.05 151.14,293.79 151.48,294.5 151.83,295.17 152.18,295.81 152.52,296.43 152.87,297.01 153.21,297.57 153.56,298.11 153.91,298.62 154.25,299.11 154.6,299.58 154.95,300.02 155.29,300.45 155.64,300.87 155.99,301.26 156.33,301.64 156.68,302 157.02,302.35 157.37,302.69 157.72,303.01 158.06,303.32 158.41,303.62 158.76,303.91 159.1,304.19 159.45,304.46 159.79,304.71 160.14,304.96 160.49,305.2 160.83,305.43 161.18,305.66 161.53,305.87 161.87,306.08 162.22,306.28 162.57,306.48 162.91,306.66 163.26,306.85 163.6,307.02 163.95,307.19 164.3,307.36 164.64,307.52 164.99,307.68 165.34,307.83 165.68,307.97 166.03,308.12 166.38,308.25 166.72,308.39 167.07,308.52 167.41,308.64 167.76,308.77 168.11,308.88 168.45,309 168.8,309.11 169.15,309.22 169.49,309.33 169.84,309.43 170.18,309.53 170.53,309.63 170.88,309.72 171.22,309.82 171.57,309.91 171.92,310 172.26,310.08 172.61,310.17 172.96,310.25 173.3,310.33 173.65,310.4 173.99,310.48 174.34,310.55 174.69,310.62 175.03,310.69 175.38,310.76 175.73,310.83 176.07,310.89 176.42,310.96 176.77,311.02 177.11,311.08 177.46,311.14 177.8,311.2 178.15,311.25 178.5,311.31 178.84,311.36 179.19,311.42 179.54,311.47 179.88,311.52 180.23,311.57 180.57,311.61 180.92,311.66 181.27,311.71 181.61,311.75 181.96,311.8 182.31,311.84 182.65,311.88 183,311.92 183.35,311.97 183.69,312.01 184.04,312.04 184.38,312.08 184.73,312.12 185.08,312.16 185.42,312.19 185.77,312.23 186.12,312.26 186.46,312.3 186.81,312.33 187.16,312.36 187.5,312.39 187.85,312.42 188.19,312.45 188.54,312.48 188.89,312.51 189.23,312.54 189.58,312.57 189.93,312.6 190.27,312.63 190.62,312.65 190.96,312.68 191.31,312.7 191.66,312.73 192,312.75 192.35,312.78 192.7,312.8 193.04,312.83 193.39,312.85 193.74,312.87 194.08,312.89 194.43,312.92 194.77,312.94 195.12,312.96 195.47,312.98 195.81,313 196.16,313.02 196.51,313.04 196.85,313.06 197.2,313.08 197.55,313.1 197.89,313.12 198.24,313.13 198.58,313.15 198.93,313.17 199.28,313.19 199.62,313.2 199.97,313.22 200.32,313.24 200.66,313.25 201.01,313.27 201.35,313.28 201.7,313.3 202.05,313.31 202.39,313.33 202.74,313.34 203.09,313.36 203.43,313.37 203.78,313.38 204.13,313.4 204.47,313.41 204.82,313.42 205.16,313.44 205.51,313.45 205.86,313.46 206.2,313.48 206.55,313.49 206.9,313.5 207.24,313.51 207.59,313.52 207.94,313.53 208.28,313.55 208.63,313.56 208.97,313.57 209.32,313.58 209.67,313.59 210.01,313.6 210.36,313.61 210.71,313.62 211.05,313.63 211.4,313.64 211.74,313.65 212.09,313.66 212.44,313.67 212.78,313.68 213.13,313.69 213.48,313.7 213.82,313.71 214.17,313.71 214.52,313.72 214.86,313.73 215.21,313.74 215.55,313.75 215.9,313.76 216.25,313.76 216.59,313.77 216.94,313.78 217.29,313.79 217.63,313.79 217.98,313.8 218.33,313.81 218.67,313.82 219.02,313.82 219.36,313.83 219.71,313.84 220.06,313.84 220.4,313.85 220.75,313.86 221.1,313.86 221.44,313.87 221.79,313.88 222.13,313.88 222.48,313.89 222.83,313.9 223.17,313.9 223.52,313.91 223.87,313.91 224.21,313.92 224.56,313.92 224.91,313.93 225.25,313.94 225.6,313.94 225.94,313.95 226.29,313.95 226.64,313.96 226.98,313.96"/>
<circle cx="53.82" cy="314.52" r="1.75" fill="url(#mb)"/>
<circle cx="59.36" cy="314.35" r="1.75" fill="url(#mb)"/>
<circle cx="64.9" cy="314.14" r="1.75" fill="url(#mb)"/>
<circle cx="70.44" cy="313.89" r="1.75" fill="url(#mb)"/>
<circle cx="75.98" cy="313.57" r="1.75" fill="url(#mb)"/>
<circle cx="81.52" cy="313.15" r="1.75" fill="url(#mb)"/>
<circle cx="87.06" cy="312.59" r="1.75" fill="url(#mb)"/>
<circle cx="92.61" cy="311.81" r="1.75" fill="url(#mb)"/>
<circle cx="98.15" cy="310.68" r="1.75" fill="url(#mb)"/>
<circle cx="103.69" cy="308.94" r="1.75" fill="url(#mb)"/>
<circle cx="109.23" cy="306.06" r="1.75" fill="url(#mb)"/>
<circle cx="114.77" cy="300.47" r="1.75" fill="url(#mb)"/>
<circle cx="120.31" cy="287.65" r="1.75" fill="url(#mb)"/>
<circle cx="125.85" cy="258.76" r="1.75" fill="url(#mb)"/>
<circle cx="131.4" cy="214.83" r="1.75" fill="url(#mb)"/>
<circle cx="136.94" cy="215.22" r="1.75" fill="url(#mb)"/>
<circle cx="142.48" cy="258.77" r="1.75" fill="url(#mb)"/>
<circle cx="148.02" cy="285.64" r="1.75" fill="url(#mb)"/>
<circle cx="153.56" cy="298.11" r="1.75" fill="url(#mb)"/>
<circle cx="159.1" cy="304.19" r="1.75" fill="url(#mb)"/>
<circle cx="164.64" cy="307.52" r="1.75" fill="url(#mb)"/>
<circle cx="170.18" cy="309.53" r="1.75" fill="url(#mb)"/>
<circle cx="175.73" cy="310.83" r="1.75" fill="url(#mb)"/>
<circle cx="181.27" cy="311.71" r="1.75" fill="url(#mb)"/>
<circle cx="186.81" cy="312.33" r="1.75" fill="url(#mb)"/>
<circle cx="192.35" cy="312.78" r="1.75" fill="url(#mb)"/>
<circle cx="197.89" cy="313.12" r="1.75" fill="url(#mb)"/>
<circle cx="203.43" cy="313.37" r="1.75" fill="url(#mb)"/>
<circle cx="208.97" cy="313.57" r="1.75" fill="url(#mb)"/>
<circle cx="214.52" cy="313.72" r="1.75" fill="url(#mb)"/>
<circle cx="220.06" cy="313.84" r="1.75" fill="url(#mb)"/>
<circle cx="225.6" cy="313.94" r="1.75" fill="url(#mb)"/>
<polyline fill="none" stroke="#27a04e" stroke-width="1.3" stroke-linejoin="round" points="53.82,314.82 54.16,314.82 54.51,314.81 54.86,314.8 55.2,314.8 55.55,314.79 55.89,314.79 56.24,314.78 56.59,314.77 56.93,314.77 57.28,314.76 57.63,314.76 57.97,314.75 58.32,314.74 58.67,314.74 59.01,314.73 59.36,314.72 59.7,314.72 60.05,314.71 60.4,314.71 60.74,314.7 61.09,314.69 61.44,314.69 61.78,314.68 62.13,314.67 62.48,314.66 62.82,314.66 63.17,314.65 63.51,314.64 63.86,314.64 64.21,314.63 64.55,314.62 64.9,314.61 65.25,314.61 65.59,314.6 65.94,314.59 66.28,314.58 66.63,314.58 66.98,314.57 67.32,314.56 67.67,314.55 68.02,314.55 68.36,314.54 68.71,314.53 69.06,314.52 69.4,314.51 69.75,314.5 70.09,314.5 70.44,314.49 70.79,314.48 71.13,314.47 71.48,314.46 71.83,314.45 72.17,314.44 72.52,314.43 72.87,314.43 73.21,314.42 73.56,314.41 73.9,314.4 74.25,314.39 74.6,314.38 74.94,314.37 75.29,314.36 75.64,314.35 75.98,314.34 76.33,314.33 76.67,314.32 77.02,314.31 77.37,314.3 77.71,314.29 78.06,314.28 78.41,314.27 78.75,314.25 79.1,314.24 79.45,314.23 79.79,314.22 80.14,314.21 80.48,314.2 80.83,314.19 81.18,314.17 81.52,314.16 81.87,314.15 82.22,314.14 82.56,314.13 82.91,314.11 83.25,314.1 83.6,314.09 83.95,314.08 84.29,314.06 84.64,314.05 84.99,314.04 85.33,314.02 85.68,314.01 86.03,313.99 86.37,313.98 86.72,313.97 87.06,313.95 87.41,313.94 87.76,313.92 88.1,313.91 88.45,313.89 88.8,313.88 89.14,313.86 89.49,313.84 89.84,313.83 90.18,313.81 90.53,313.79 90.87,313.78 91.22,313.76 91.57,313.74 91.91,313.73 92.26,313.71 92.61,313.69 92.95,313.67 93.3,313.65 93.65,313.64 93.99,313.62 94.34,313.6 94.68,313.58 95.03,313.56 95.38,313.54 95.72,313.52 96.07,313.5 96.42,313.48 96.76,313.45 97.11,313.43 97.45,313.41 97.8,313.39 98.15,313.36 98.49,313.34 98.84,313.32 99.19,313.29 99.53,313.27 99.88,313.25 100.23,313.22 100.57,313.2 100.92,313.17 101.26,313.14 101.61,313.12 101.96,313.09 102.3,313.06 102.65,313.03 103,313.01 103.34,312.98 103.69,312.95 104.04,312.92 104.38,312.89 104.73,312.86 105.07,312.82 105.42,312.79 105.77,312.76 106.11,312.73 106.46,312.69 106.81,312.66 107.15,312.62 107.5,312.59 107.84,312.55 108.19,312.51 108.54,312.48 108.88,312.44 109.23,312.4 109.58,312.36 109.92,312.32 110.27,312.28 110.62,312.23 110.96,312.19 111.31,312.15 111.65,312.1 112,312.06 112.35,312.01 112.69,311.96 113.04,311.91 113.39,311.86 113.73,311.81 114.08,311.76 114.43,311.71 114.77,311.65 115.12,311.6 115.46,311.54 115.81,311.48 116.16,311.43 116.5,311.37 116.85,311.3 117.2,311.24 117.54,311.18 117.89,311.11 118.23,311.04 118.58,310.97 118.93,310.9 119.27,310.83 119.62,310.76 119.97,310.68 120.31,310.6 120.66,310.52 121.01,310.44 121.35,310.36 121.7,310.27 122.04,310.19 122.39,310.1 122.74,310 123.08,309.91 123.43,309.81 123.78,309.71 124.12,309.61 124.47,309.51 124.81,309.4 125.16,309.29 125.51,309.17 125.85,309.05 126.2,308.93 126.55,308.81 126.89,308.68 127.24,308.55 127.59,308.41 127.93,308.27 128.28,308.13 128.62,307.98 128.97,307.83 129.32,307.67 129.66,307.5 130.01,307.33 130.36,307.16 130.7,306.97 131.05,306.79 131.4,306.59 131.74,306.39 132.09,306.18 132.43,305.96 132.78,305.73 133.13,305.49 133.47,305.25 133.82,304.99 134.17,304.73 134.51,304.45 134.86,304.16 135.2,303.85 135.55,303.53 135.9,303.2 136.24,302.85 136.59,302.49 136.94,302.1 137.28,301.7 137.63,301.28 137.98,300.84 138.32,300.37 138.67,299.88 139.01,299.37 139.36,298.83 139.71,298.26 140.05,297.66 140.4,297.03 140.75,296.37 141.09,295.67 141.44,294.93 141.79,294.16 142.13,293.35 142.48,292.49 142.82,291.59 143.17,290.65 143.52,289.65 143.86,288.61 144.21,287.51 144.56,286.36 144.9,285.16 145.25,283.89 145.6,282.57 145.94,281.19 146.29,279.74 146.63,278.23 146.98,276.65 147.33,275.01 147.67,273.3 148.02,271.52 148.37,269.67 148.71,267.76 149.06,265.77 149.4,263.71 149.75,261.59 150.1,259.4 150.44,257.14 150.79,254.83 151.14,252.45 151.48,250.02 151.83,247.53 152.18,245 152.52,242.43 152.87,239.83 153.21,237.21 153.56,234.57 153.91,231.94 154.25,229.32 154.6,226.73 154.95,224.18 155.29,221.69 155.64,219.28 155.99,216.97 156.33,214.78 156.68,212.72 157.02,210.84 157.37,209.13 157.72,207.62 158.06,206.34 158.41,205.29 158.76,204.49 159.1,203.95 159.45,203.67 159.79,203.67 160.14,203.96 160.49,204.54 160.83,205.38 161.18,206.5 161.53,207.86 161.87,209.44 162.22,211.24 162.57,213.22 162.91,215.36 163.26,217.63 163.6,220.02 163.95,222.5 164.3,225.04 164.64,227.63 164.99,230.25 165.34,232.87 165.68,235.5 166.03,238.1 166.38,240.68 166.72,243.21 167.07,245.7 167.41,248.13 167.76,250.51 168.11,252.82 168.45,255.06 168.8,257.23 169.15,259.33 169.49,261.36 169.84,263.31 170.18,265.2 170.53,267.01 170.88,268.75 171.22,270.43 171.57,272.04 171.92,273.58 172.26,275.06 172.61,276.48 172.96,277.84 173.3,279.14 173.65,280.39 173.99,281.58 174.34,282.72 174.69,283.82 175.03,284.86 175.38,285.87 175.73,286.82 176.07,287.74 176.42,288.62 176.77,289.46 177.11,290.27 177.46,291.04 177.8,291.78 178.15,292.49 178.5,293.16 178.84,293.81 179.19,294.44 179.54,295.03 179.88,295.61 180.23,296.16 180.57,296.69 180.92,297.19 181.27,297.68 181.61,298.15 181.96,298.6 182.31,299.03 182.65,299.44 183,299.84 183.35,300.23 183.69,300.6 184.04,300.96 184.38,301.3 184.73,301.63 185.08,301.95 185.42,302.26 185.77,302.56 186.12,302.85 186.46,303.12 186.81,303.39 187.16,303.65 187.5,303.9 187.85,304.15 188.19,304.38 188.54,304.61 188.89,304.83 189.23,305.04 189.58,305.25 189.93,305.45 190.27,305.65 190.62,305.83 190.96,306.02 191.31,306.19 191.66,306.37 192,306.53 192.35,306.7 192.7,306.85 193.04,307.01 193.39,307.16 193.74,307.3 194.08,307.44 194.43,307.58 194.77,307.71 195.12,307.84 195.47,307.97 195.81,308.09 196.16,308.21 196.51,308.33 196.85,308.44 197.2,308.55 197.55,308.66 197.89,308.77 198.24,308.87 198.58,308.97 198.93,309.07 199.28,309.16 199.62,309.26 199.97,309.35 200.32,309.44 200.66,309.52 201.01,309.61 201.35,309.69 201.7,309.77 202.05,309.85 202.39,309.92 202.74,310 203.09,310.07 203.43,310.14 203.78,310.21 204.13,310.28 204.47,310.35 204.82,310.42 205.16,310.48 205.51,310.54 205.86,310.6 206.2,310.66 206.55,310.72 206.9,310.78 207.24,310.84 207.59,310.89 207.94,310.94 208.28,311 208.63,311.05 208.97,311.1 209.32,311.15 209.67,311.2 210.01,311.25 210.36,311.29 210.71,311.34 211.05,311.38 211.4,311.43 211.74,311.47 212.09,311.51 212.44,311.55 212.78,311.59 213.13,311.63 213.48,311.67 213.82,311.71 214.17,311.75 214.52,311.79 214.86,311.82 215.21,311.86 215.55,311.89 215.9,311.93 216.25,311.96 216.59,311.99 216.94,312.03 217.29,312.06 217.63,312.09 217.98,312.12 218.33,312.15 218.67,312.18 219.02,312.21 219.36,312.24 219.71,312.27 220.06,312.29 220.4,312.32 220.75,312.35 221.1,312.37 221.44,312.4 221.79,312.42 222.13,312.45 222.48,312.47 222.83,312.5 223.17,312.52 223.52,312.54 223.87,312.57 224.21,312.59 224.56,312.61 224.91,312.63 225.25,312.66 225.6,312.68 225.94,312.7 226.29,312.72 226.64,312.74 226.98,312.76"/>
<circle cx="53.82" cy="314.82" r="1.75" fill="url(#mg)"/>
<circle cx="59.36" cy="314.72" r="1.75" fill="url(#mg)"/>
<circle cx="64.9" cy="314.61" r="1.75" fill="url(#mg)"/>
<circle cx="70.44" cy="314.49" r="1.75" fill="url(#mg)"/>
<circle cx="75.98" cy="314.34" r="1.75" fill="url(#mg)"/>
<circle cx="81.52" cy="314.16" r="1.75" fill="url(#mg)"/>
<circle cx="87.06" cy="313.95" r="1.75" fill="url(#mg)"/>
<circle cx="92.61" cy="313.69" r="1.75" fill="url(#mg)"/>
<circle cx="98.15" cy="313.36" r="1.75" fill="url(#mg)"/>
<circle cx="103.69" cy="312.95" r="1.75" fill="url(#mg)"/>
<circle cx="109.23" cy="312.4" r="1.75" fill="url(#mg)"/>
<circle cx="114.77" cy="311.65" r="1.75" fill="url(#mg)"/>
<circle cx="120.31" cy="310.6" r="1.75" fill="url(#mg)"/>
<circle cx="125.85" cy="309.05" r="1.75" fill="url(#mg)"/>
<circle cx="131.4" cy="306.59" r="1.75" fill="url(#mg)"/>
<circle cx="136.94" cy="302.1" r="1.75" fill="url(#mg)"/>
<circle cx="142.48" cy="292.49" r="1.75" fill="url(#mg)"/>
<circle cx="148.02" cy="271.52" r="1.75" fill="url(#mg)"/>
<circle cx="153.56" cy="234.57" r="1.75" fill="url(#mg)"/>
<circle cx="159.1" cy="203.95" r="1.75" fill="url(#mg)"/>
<circle cx="164.64" cy="227.63" r="1.75" fill="url(#mg)"/>
<circle cx="170.18" cy="265.2" r="1.75" fill="url(#mg)"/>
<circle cx="175.73" cy="286.82" r="1.75" fill="url(#mg)"/>
<circle cx="181.27" cy="297.68" r="1.75" fill="url(#mg)"/>
<circle cx="186.81" cy="303.39" r="1.75" fill="url(#mg)"/>
<circle cx="192.35" cy="306.7" r="1.75" fill="url(#mg)"/>
<circle cx="197.89" cy="308.77" r="1.75" fill="url(#mg)"/>
<circle cx="203.43" cy="310.14" r="1.75" fill="url(#mg)"/>
<circle cx="208.97" cy="311.1" r="1.75" fill="url(#mg)"/>
<circle cx="214.52" cy="311.79" r="1.75" fill="url(#mg)"/>
<circle cx="220.06" cy="312.29" r="1.75" fill="url(#mg)"/>
<circle cx="225.6" cy="312.68" r="1.75" fill="url(#mg)"/>
<polyline fill="none" stroke="#b658ec" stroke-width="1.3" stroke-linejoin="round" points="53.82,314.82 54.16,314.82 54.51,314.81 54.86,314.81 55.2,314.8 55.55,314.8 55.89,314.79 56.24,314.79 56.59,314.78 56.93,314.78 57.28,314.77 57.63,314.77 57.97,314.76 58.32,314.76 58.67,314.75 59.01,314.75 59.36,314.74 59.7,314.74 60.05,314.73 60.4,314.72 60.74,314.72 61.09,314.71 61.44,314.71 61.78,314.7 62.13,314.7 62.48,314.69 62.82,314.69 63.17,314.68 63.51,314.68 63.86,314.67 64.21,314.66 64.55,314.66 64.9,314.65 65.25,314.65 65.59,314.64 65.94,314.63 66.28,314.63 66.63,314.62 66.98,314.62 67.32,314.61 67.67,314.6 68.02,314.6 68.36,314.59 68.71,314.59 69.06,314.58 69.4,314.57 69.75,314.57 70.09,314.56 70.44,314.55 70.79,314.55 71.13,314.54 71.48,314.53 71.83,314.53 72.17,314.52 72.52,314.51 72.87,314.51 73.21,314.5 73.56,314.49 73.9,314.49 74.25,314.48 74.6,314.47 74.94,314.47 75.29,314.46 75.64,314.45 75.98,314.44 76.33,314.44 76.67,314.43 77.02,314.42 77.37,314.42 77.71,314.41 78.06,314.4 78.41,314.39 78.75,314.38 79.1,314.38 79.45,314.37 79.79,314.36 80.14,314.35 80.48,314.35 80.83,314.34 81.18,314.33 81.52,314.32 81.87,314.31 82.22,314.3 82.56,314.3 82.91,314.29 83.25,314.28 83.6,314.27 83.95,314.26 84.29,314.25 84.64,314.24 84.99,314.24 85.33,314.23 85.68,314.22 86.03,314.21 86.37,314.2 86.72,314.19 87.06,314.18 87.41,314.17 87.76,314.16 88.1,314.15 88.45,314.14 88.8,314.13 89.14,314.12 89.49,314.11 89.84,314.1 90.18,314.09 90.53,314.08 90.87,314.07 91.22,314.06 91.57,314.05 91.91,314.04 92.26,314.03 92.61,314.02 92.95,314.01 93.3,314 93.65,313.99 93.99,313.97 94.34,313.96 94.68,313.95 95.03,313.94 95.38,313.93 95.72,313.92 96.07,313.9 96.42,313.89 96.76,313.88 97.11,313.87 97.45,313.86 97.8,313.84 98.15,313.83 98.49,313.82 98.84,313.8 99.19,313.79 99.53,313.78 99.88,313.76 100.23,313.75 100.57,313.74 100.92,313.72 101.26,313.71 101.61,313.7 101.96,313.68 102.3,313.67 102.65,313.65 103,313.64 103.34,313.62 103.69,313.61 104.04,313.59 104.38,313.58 104.73,313.56 105.07,313.55 105.42,313.53 105.77,313.52 106.11,313.5 106.46,313.48 106.81,313.47 107.15,313.45 107.5,313.43 107.84,313.41 108.19,313.4 108.54,313.38 108.88,313.36 109.23,313.34 109.58,313.33 109.92,313.31 110.27,313.29 110.62,313.27 110.96,313.25 111.31,313.23 111.65,313.21 112,313.19 112.35,313.17 112.69,313.15 113.04,313.13 113.39,313.11 113.73,313.09 114.08,313.07 114.43,313.05 114.77,313.02 115.12,313 115.46,312.98 115.81,312.96 116.16,312.93 116.5,312.91 116.85,312.89 117.2,312.86 117.54,312.84 117.89,312.81 118.23,312.79 118.58,312.76 118.93,312.74 119.27,312.71 119.62,312.68 119.97,312.66 120.31,312.63 120.66,312.6 121.01,312.57 121.35,312.55 121.7,312.52 122.04,312.49 122.39,312.46 122.74,312.43 123.08,312.4 123.43,312.37 123.78,312.33 124.12,312.3 124.47,312.27 124.81,312.24 125.16,312.2 125.51,312.17 125.85,312.13 126.2,312.1 126.55,312.06 126.89,312.03 127.24,311.99 127.59,311.95 127.93,311.92 128.28,311.88 128.62,311.84 128.97,311.8 129.32,311.76 129.66,311.72 130.01,311.67 130.36,311.63 130.7,311.59 131.05,311.55 131.4,311.5 131.74,311.46 132.09,311.41 132.43,311.36 132.78,311.31 133.13,311.27 133.47,311.22 133.82,311.17 134.17,311.11 134.51,311.06 134.86,311.01 135.2,310.95 135.55,310.9 135.9,310.84 136.24,310.79 136.59,310.73 136.94,310.67 137.28,310.61 137.63,310.55 137.98,310.48 138.32,310.42 138.67,310.35 139.01,310.29 139.36,310.22 139.71,310.15 140.05,310.08 140.4,310.01 140.75,309.93 141.09,309.86 141.44,309.78 141.79,309.7 142.13,309.62 142.48,309.54 142.82,309.46 143.17,309.37 143.52,309.29 143.86,309.2 144.21,309.11 144.56,309.01 144.9,308.92 145.25,308.82 145.6,308.72 145.94,308.62 146.29,308.51 146.63,308.41 146.98,308.3 147.33,308.19 147.67,308.07 148.02,307.95 148.37,307.83 148.71,307.71 149.06,307.58 149.4,307.45 149.75,307.31 150.1,307.17 150.44,307.03 150.79,306.89 151.14,306.74 151.48,306.58 151.83,306.42 152.18,306.26 152.52,306.09 152.87,305.91 153.21,305.73 153.56,305.54 153.91,305.35 154.25,305.15 154.6,304.95 154.95,304.74 155.29,304.52 155.64,304.29 155.99,304.06 156.33,303.81 156.68,303.56 157.02,303.3 157.37,303.03 157.72,302.75 158.06,302.45 158.41,302.15 158.76,301.84 159.1,301.51 159.45,301.17 159.79,300.82 160.14,300.45 160.49,300.07 160.83,299.68 161.18,299.27 161.53,298.84 161.87,298.4 162.22,297.94 162.57,297.45 162.91,296.96 163.26,296.44 163.6,295.9 163.95,295.33 164.3,294.75 164.64,294.14 164.99,293.51 165.34,292.86 165.68,292.18 166.03,291.47 166.38,290.74 166.72,289.98 167.07,289.19 167.41,288.37 167.76,287.52 168.11,286.64 168.45,285.73 168.8,284.78 169.15,283.81 169.49,282.79 169.84,281.75 170.18,280.67 170.53,279.55 170.88,278.4 171.22,277.21 171.57,275.99 171.92,274.72 172.26,273.42 172.61,272.09 172.96,270.71 173.3,269.3 173.65,267.85 173.99,266.36 174.34,264.84 174.69,263.28 175.03,261.68 175.38,260.05 175.73,258.39 176.07,256.69 176.42,254.97 176.77,253.21 177.11,251.44 177.46,249.63 177.8,247.81 178.15,245.97 178.5,244.12 178.84,242.25 179.19,240.38 179.54,238.51 179.88,236.65 180.23,234.79 180.57,232.95 180.92,231.14 181.27,229.35 181.61,227.61 181.96,225.91 182.31,224.26 182.65,222.68 183,221.17 183.35,219.74 183.69,218.39 184.04,217.15 184.38,216.01 184.73,214.98 185.08,214.07 185.42,213.29 185.77,212.64 186.12,212.13 186.46,211.77 186.81,211.55 187.16,211.47 187.5,211.55 187.85,211.78 188.19,212.17 188.54,212.71 188.89,213.39 189.23,214.22 189.58,215.18 189.93,216.26 190.27,217.46 190.62,218.77 190.96,220.18 191.31,221.67 191.66,223.24 192,224.89 192.35,226.58 192.7,228.33 193.04,230.12 193.39,231.94 193.74,233.78 194.08,235.63 194.43,237.5 194.77,239.36 195.12,241.22 195.47,243.07 195.81,244.9 196.16,246.72 196.51,248.51 196.85,250.27 197.2,252.01 197.55,253.71 197.89,255.38 198.24,257.02 198.58,258.61 198.93,260.17 199.28,261.7 199.62,263.18 199.97,264.62 200.32,266.03 200.66,267.4 201.01,268.72 201.35,270.01 201.7,271.26 202.05,272.48 202.39,273.66 202.74,274.8 203.09,275.9 203.43,276.97 203.78,278.01 204.13,279.01 204.47,279.99 204.82,280.93 205.16,281.84 205.51,282.72 205.86,283.57 206.2,284.39 206.55,285.19 206.9,285.96 207.24,286.7 207.59,287.42 207.94,288.12 208.28,288.79 208.63,289.44 208.97,290.08 209.32,290.68 209.67,291.27 210.01,291.84 210.36,292.4 210.71,292.93 211.05,293.45 211.4,293.95 211.74,294.43 212.09,294.9 212.44,295.35 212.78,295.79 213.13,296.22 213.48,296.63 213.82,297.03 214.17,297.41 214.52,297.79 214.86,298.15 215.21,298.5 215.55,298.84 215.9,299.17 216.25,299.49 216.59,299.81 216.94,300.11 217.29,300.4 217.63,300.69 217.98,300.96 218.33,301.23 218.67,301.49 219.02,301.75 219.36,302 219.71,302.24 220.06,302.47 220.4,302.7 220.75,302.92 221.1,303.13 221.44,303.34 221.79,303.54 222.13,303.74 222.48,303.94 222.83,304.13 223.17,304.31 223.52,304.49 223.87,304.66 224.21,304.83 224.56,305 224.91,305.16 225.25,305.32 225.6,305.47 225.94,305.62 226.29,305.77 226.64,305.91 226.98,306.05"/>
<circle cx="53.82" cy="314.82" r="1.75" fill="url(#mp)"/>
<circle cx="59.36" cy="314.74" r="1.75" fill="url(#mp)"/>
<circle cx="64.9" cy="314.65" r="1.75" fill="url(#mp)"/>
<circle cx="70.44" cy="314.55" r="1.75" fill="url(#mp)"/>
<circle cx="75.98" cy="314.44" r="1.75" fill="url(#mp)"/>
<circle cx="81.52" cy="314.32" r="1.75" fill="url(#mp)"/>
<circle cx="87.06" cy="314.18" r="1.75" fill="url(#mp)"/>
<circle cx="92.61" cy="314.02" r="1.75" fill="url(#mp)"/>
<circle cx="98.15" cy="313.83" r="1.75" fill="url(#mp)"/>
<circle cx="103.69" cy="313.61" r="1.75" fill="url(#mp)"/>
<circle cx="109.23" cy="313.34" r="1.75" fill="url(#mp)"/>
<circle cx="114.77" cy="313.02" r="1.75" fill="url(#mp)"/>
<circle cx="120.31" cy="312.63" r="1.75" fill="url(#mp)"/>
<circle cx="125.85" cy="312.13" r="1.75" fill="url(#mp)"/>
<circle cx="131.4" cy="311.5" r="1.75" fill="url(#mp)"/>
<circle cx="136.94" cy="310.67" r="1.75" fill="url(#mp)"/>
<circle cx="142.48" cy="309.54" r="1.75" fill="url(#mp)"/>
<circle cx="148.02" cy="307.95" r="1.75" fill="url(#mp)"/>
<circle cx="153.56" cy="305.54" r="1.75" fill="url(#mp)"/>
<circle cx="159.1" cy="301.51" r="1.75" fill="url(#mp)"/>
<circle cx="164.64" cy="294.14" r="1.75" fill="url(#mp)"/>
<circle cx="170.18" cy="280.67" r="1.75" fill="url(#mp)"/>
<circle cx="175.73" cy="258.39" r="1.75" fill="url(#mp)"/>
<circle cx="181.27" cy="229.35" r="1.75" fill="url(#mp)"/>
<circle cx="186.81" cy="211.55" r="1.75" fill="url(#mp)"/>
<circle cx="192.35" cy="226.58" r="1.75" fill="url(#mp)"/>
<circle cx="197.89" cy="255.38" r="1.75" fill="url(#mp)"/>
<circle cx="203.43" cy="276.97" r="1.75" fill="url(#mp)"/>
<circle cx="208.97" cy="290.08" r="1.75" fill="url(#mp)"/>
<circle cx="214.52" cy="297.79" r="1.75" fill="url(#mp)"/>
<circle cx="220.06" cy="302.47" r="1.75" fill="url(#mp)"/>
<circle cx="225.6" cy="305.47" r="1.75" fill="url(#mp)"/>
<rect x="60.9" y="194.5" width="19.3" height="44.3" rx="9.65" ry="9.65" fill="url(#cshell)" stroke="#a89c9c" stroke-width="0.7"/>
<rect x="66" y="201" width="9" height="32.3" rx="4.5" ry="4.5" fill="url(#ccore)" stroke="#80806a" stroke-width="0.4"/>
<line x1="60.9" y1="206.6" x2="80.2" y2="206.6" stroke="#9a9a9a" stroke-width="0.5"/>
<line x1="60.9" y1="230.8" x2="80.2" y2="230.8" stroke="#9a9a9a" stroke-width="0.5"/>
<line x1="70.9" y1="188.5" x2="70.9" y2="216.3" stroke="#2a2a2a" stroke-width="0.8"/>
<line x1="70.9" y1="216.3" x2="86.2" y2="216.3" stroke="#2a2a2a" stroke-width="0.8"/>
<path d="M70.9 187L69.9 189.8L71.9 189.8Z" fill="#202020"/>
<circle cx="86.4" cy="216.3" r="1.0" fill="#202020"/>
<text x="68.0" y="190.3" font-size="4.8" text-anchor="middle" fill="#222" font-style="italic" stroke="none">z</text>
<text x="83.2" y="214.0" font-size="4.8" text-anchor="middle" fill="#222" font-style="italic" stroke="none">x</text>
<path d="M53.82 323.1L53.82 320.3M53.82 184.2L53.82 187M88.45 323.1L88.45 320.3M88.45 184.2L88.45 187M123.08 323.1L123.08 320.3M123.08 184.2L123.08 187M157.72 323.1L157.72 320.3M157.72 184.2L157.72 187M192.35 323.1L192.35 320.3M192.35 184.2L192.35 187M226.98 323.1L226.98 320.3M226.98 184.2L226.98 187M71.13 323.1L71.13 321.5M71.13 184.2L71.13 185.8M105.77 323.1L105.77 321.5M105.77 184.2L105.77 185.8M140.4 323.1L140.4 321.5M140.4 184.2L140.4 185.8M175.03 323.1L175.03 321.5M175.03 184.2L175.03 185.8M209.67 323.1L209.67 321.5M209.67 184.2L209.67 185.8M36.5 316.49L39.3 316.49M244.3 316.49L241.5 316.49M36.5 283.41L39.3 283.41M244.3 283.41L241.5 283.41M36.5 250.34L39.3 250.34M244.3 250.34L241.5 250.34M36.5 217.27L39.3 217.27M244.3 217.27L241.5 217.27M36.5 184.2L39.3 184.2M244.3 184.2L241.5 184.2M36.5 299.95L38.1 299.95M244.3 299.95L242.7 299.95M36.5 266.88L38.1 266.88M244.3 266.88L242.7 266.88M36.5 233.81L38.1 233.81M244.3 233.81L242.7 233.81M36.5 200.74L38.1 200.74M244.3 200.74L242.7 200.74" stroke="#000" stroke-width="1.0" fill="none"/>
<rect x="36.5" y="184.2" width="207.8" height="138.9" fill="none" stroke="#000" stroke-width="1.1"/>
<text x="53.82" y="332.5" font-size="9.4" text-anchor="middle" fill="#000" color="#000" font-weight="bold">600</text>
<text x="88.45" y="332.5" font-size="9.4" text-anchor="middle" fill="#000" color="#000" font-weight="bold">700</text>
<text x="123.08" y="332.5" font-size="9.4" text-anchor="middle" fill="#000" color="#000" font-weight="bold">800</text>
<text x="157.72" y="332.5" font-size="9.4" text-anchor="middle" fill="#000" color="#000" font-weight="bold">900</text>
<text x="192.35" y="332.5" font-size="9.4" text-anchor="middle" fill="#000" color="#000" font-weight="bold">1000</text>
<text x="226.98" y="332.5" font-size="9.4" text-anchor="middle" fill="#000" color="#000" font-weight="bold">1100</text>
<text x="33.3" y="319.69" font-size="9.3" text-anchor="end" fill="#000" color="#000" font-weight="bold">0.0</text>
<text x="33.3" y="286.61" font-size="9.3" text-anchor="end" fill="#000" color="#000" font-weight="bold">0.1</text>
<text x="33.3" y="253.54" font-size="9.3" text-anchor="end" fill="#000" color="#000" font-weight="bold">0.2</text>
<text x="33.3" y="220.47" font-size="9.3" text-anchor="end" fill="#000" color="#000" font-weight="bold">0.3</text>
<text x="33.3" y="187.4" font-size="9.3" text-anchor="end" fill="#000" color="#000" font-weight="bold">0.4</text>
<text x="41.95" y="197.2" font-size="11.5" text-anchor="start" fill="#000" color="#000" font-weight="bold">(c)</text>
<text transform="translate(124.08 351.9) skewX(-12)" font-size="13.5" font-weight="normal" font-style="italic">&#955;</text>
<text x="129.85" y="351.9" font-size="12" font-weight="bold" xml:space="preserve"> (nm)</text>
<g transform="translate(15.8 254.25) rotate(-90)" fill="#000" color="#000" font-weight="bold">
<text transform="translate(-31.17 0) skewX(-8)" font-size="12" font-style="italic">A</text>
<text x="-23.17" y="1.7" font-size="12" xml:space="preserve">abs</text>
<text x="-5.82" y="0" font-size="12" xml:space="preserve"> (1/nm)</text>
</g>
<text x="218.7" y="196.6" font-size="8.5" text-anchor="middle" fill="#000" color="#000" font-weight="bold"><tspan font-style="italic">AR</tspan></text>
<line x1="201.2" y1="204" x2="221.1" y2="204" stroke="#333333" stroke-width="1.3"/>
<circle cx="211.15" cy="204" r="2.1" fill="url(#mk)"/>
<text x="222.7" y="207.2" font-size="9.3" text-anchor="start" fill="#000" color="#000" font-weight="bold">2</text>
<line x1="201.2" y1="214.71" x2="221.1" y2="214.71" stroke="#f42c2c" stroke-width="1.3"/>
<circle cx="211.15" cy="214.71" r="2.1" fill="url(#mr)"/>
<text x="222.7" y="217.91" font-size="9.3" text-anchor="start" fill="#000" color="#000" font-weight="bold">2.5</text>
<line x1="201.2" y1="225.42" x2="221.1" y2="225.42" stroke="#1d62ee" stroke-width="1.3"/>
<circle cx="211.15" cy="225.42" r="2.1" fill="url(#mb)"/>
<text x="222.7" y="228.62" font-size="9.3" text-anchor="start" fill="#000" color="#000" font-weight="bold">3</text>
<line x1="201.2" y1="236.13" x2="221.1" y2="236.13" stroke="#27a04e" stroke-width="1.3"/>
<circle cx="211.15" cy="236.13" r="2.1" fill="url(#mg)"/>
<text x="222.7" y="239.33" font-size="9.3" text-anchor="start" fill="#000" color="#000" font-weight="bold">3.5</text>
<line x1="201.2" y1="246.84" x2="221.1" y2="246.84" stroke="#b658ec" stroke-width="1.3"/>
<circle cx="211.15" cy="246.84" r="2.1" fill="url(#mp)"/>
<text x="222.7" y="250.04" font-size="9.3" text-anchor="start" fill="#000" color="#000" font-weight="bold">4</text>
<rect x="300.5" y="7.45" width="207.7" height="138.85" fill="url(#bg)"/>
<polyline fill="none" stroke="#333" stroke-width="1.25" points="321.27,134.8 362.81,105.04 404.35,74.89 445.89,46.72 487.43,16.77"/>
<circle cx="321.27" cy="134.8" r="1.85" fill="url(#mk2)" stroke="#333" stroke-width="0.5"/>
<circle cx="362.81" cy="105.04" r="1.85" fill="url(#mk2)" stroke="#333" stroke-width="0.5"/>
<circle cx="404.35" cy="74.89" r="1.85" fill="url(#mk2)" stroke="#333" stroke-width="0.5"/>
<circle cx="445.89" cy="46.72" r="1.85" fill="url(#mk2)" stroke="#333" stroke-width="0.5"/>
<circle cx="487.43" cy="16.77" r="1.85" fill="url(#mk2)" stroke="#333" stroke-width="0.5"/>
<polyline fill="none" stroke="#f42c2c" stroke-width="1.15" points="321.27,135.89 362.81,46.13 404.35,21.63 445.89,35.22 487.43,64.97"/>
<circle cx="321.27" cy="135.89" r="1.6" fill="url(#mr2)"/>
<circle cx="362.81" cy="46.13" r="1.6" fill="url(#mr2)"/>
<circle cx="404.35" cy="21.63" r="1.6" fill="url(#mr2)"/>
<circle cx="445.89" cy="35.22" r="1.6" fill="url(#mr2)"/>
<circle cx="487.43" cy="64.97" r="1.6" fill="url(#mr2)"/>
<path d="M321.27 146.3L321.27 143.5M321.27 7.45L321.27 10.25M362.81 146.3L362.81 143.5M362.81 7.45L362.81 10.25M404.35 146.3L404.35 143.5M404.35 7.45L404.35 10.25M445.89 146.3L445.89 143.5M445.89 7.45L445.89 10.25M487.43 146.3L487.43 143.5M487.43 7.45L487.43 10.25M342.04 146.3L342.04 144.7M342.04 7.45L342.04 9.05M383.58 146.3L383.58 144.7M383.58 7.45L383.58 9.05M425.12 146.3L425.12 144.7M425.12 7.45L425.12 9.05M466.66 146.3L466.66 144.7M466.66 7.45L466.66 9.05M300.5 136.38L303.3 136.38M300.5 116.55L303.3 116.55M300.5 96.71L303.3 96.71M300.5 76.88L303.3 76.88M300.5 57.04L303.3 57.04M300.5 37.2L303.3 37.2M300.5 17.37L303.3 17.37M300.5 126.46L302.1 126.46M300.5 106.63L302.1 106.63M300.5 86.79L302.1 86.79M300.5 66.96L302.1 66.96M300.5 47.12L302.1 47.12M300.5 27.29L302.1 27.29" stroke="#000" stroke-width="1.0" fill="none"/>
<rect x="300.5" y="7.45" width="207.7" height="138.85" fill="none" stroke="#000" stroke-width="1.1"/>
<line x1="508.2" y1="6.9" x2="508.2" y2="146.85" stroke="#ff2020" stroke-width="1.1"/>
<path d="M508.2 146.3L505.4 146.3M508.2 126.46L505.4 126.46M508.2 106.63L505.4 106.63M508.2 86.79L505.4 86.79M508.2 66.96L505.4 66.96M508.2 47.12L505.4 47.12M508.2 27.29L505.4 27.29M508.2 7.45L505.4 7.45M508.2 136.38L506.6 136.38M508.2 116.55L506.6 116.55M508.2 96.71L506.6 96.71M508.2 76.88L506.6 76.88M508.2 57.04L506.6 57.04M508.2 37.2L506.6 37.2M508.2 17.37L506.6 17.37" stroke="#ff2020" stroke-width="1.0" fill="none"/>
<text x="321.27" y="157.1" font-size="9.4" text-anchor="middle" fill="#000" color="#000" font-weight="bold">2.0</text>
<text x="362.81" y="157.1" font-size="9.4" text-anchor="middle" fill="#000" color="#000" font-weight="bold">2.5</text>
<text x="404.35" y="157.1" font-size="9.4" text-anchor="middle" fill="#000" color="#000" font-weight="bold">3.0</text>
<text x="445.89" y="157.1" font-size="9.4" text-anchor="middle" fill="#000" color="#000" font-weight="bold">3.5</text>
<text x="487.43" y="157.1" font-size="9.4" text-anchor="middle" fill="#000" color="#000" font-weight="bold">4.0</text>
<text x="297.3" y="139.58" font-size="9.3" text-anchor="end" fill="#000" color="#000" font-weight="bold">650</text>
<text x="297.3" y="119.75" font-size="9.3" text-anchor="end" fill="#000" color="#000" font-weight="bold">700</text>
<text x="297.3" y="99.91" font-size="9.3" text-anchor="end" fill="#000" color="#000" font-weight="bold">750</text>
<text x="297.3" y="80.08" font-size="9.3" text-anchor="end" fill="#000" color="#000" font-weight="bold">800</text>
<text x="297.3" y="60.24" font-size="9.3" text-anchor="end" fill="#000" color="#000" font-weight="bold">850</text>
<text x="297.3" y="40.4" font-size="9.3" text-anchor="end" fill="#000" color="#000" font-weight="bold">900</text>
<text x="297.3" y="20.57" font-size="9.3" text-anchor="end" fill="#000" color="#000" font-weight="bold">950</text>
<text x="511.6" y="149.9" font-size="9.3" text-anchor="start" fill="#ff2020" color="#ff2020" font-weight="bold">0.22</text>
<text x="511.6" y="130.06" font-size="9.3" text-anchor="start" fill="#ff2020" color="#ff2020" font-weight="bold">0.24</text>
<text x="511.6" y="110.23" font-size="9.3" text-anchor="start" fill="#ff2020" color="#ff2020" font-weight="bold">0.26</text>
<text x="511.6" y="90.39" font-size="9.3" text-anchor="start" fill="#ff2020" color="#ff2020" font-weight="bold">0.28</text>
<text x="511.6" y="70.56" font-size="9.3" text-anchor="start" fill="#ff2020" color="#ff2020" font-weight="bold">0.30</text>
<text x="511.6" y="50.72" font-size="9.3" text-anchor="start" fill="#ff2020" color="#ff2020" font-weight="bold">0.32</text>
<text x="511.6" y="30.89" font-size="9.3" text-anchor="start" fill="#ff2020" color="#ff2020" font-weight="bold">0.34</text>
<text x="511.6" y="11.05" font-size="9.3" text-anchor="start" fill="#ff2020" color="#ff2020" font-weight="bold">0.36</text>
<text x="308.3" y="23.05" font-size="11.5" text-anchor="start" fill="#000" color="#000" font-weight="bold">(b)</text>
<text x="404.35" y="175.8" font-size="12" text-anchor="middle" font-weight="bold" font-style="italic">AR</text>
<g transform="translate(275.4 77.17) rotate(-90)" fill="#000" color="#000" font-weight="bold">
<text transform="translate(-24.81 0) skewX(-10)" font-size="14" font-style="italic" font-weight="normal" stroke-width="0.45">&#955;</text>
<text x="-18.59" y="1.7" font-size="12.5" xml:space="preserve">res</text>
<text x="-2.86" y="0" font-size="12" xml:space="preserve"> (nm)</text>
</g>
<g transform="translate(540.2 76.47) rotate(-90)" fill="#ff2020" color="#ff2020" font-weight="bold">
<text transform="translate(-43.67 0) skewX(-8)" font-size="12" font-style="italic">A</text>
<text x="-35.67" y="1.7" font-size="12" xml:space="preserve">abs,max</text>
<text x="6.67" y="0" font-size="12" xml:space="preserve"> (1/nm)</text>
</g>
<line x1="347.8" y1="112.9" x2="311" y2="112.9" stroke="#000" stroke-width="1.5"/>
<path d="M306.2 112.9L312.2 110.3L312.2 115.5Z" fill="#000"/>
<line x1="475.6" y1="53.3" x2="501.4" y2="53.3" stroke="#ff2020" stroke-width="1.5"/>
<path d="M506.2 53.3L500.2 50.7L500.2 55.9Z" fill="#ff2020"/>
<rect x="300.5" y="184.1" width="207.7" height="139" fill="url(#bg)"/>
<polyline fill="none" stroke="#333" stroke-width="1.25" points="321.27,306.77 362.81,278.97 404.35,251.17 445.89,225.63 487.43,198.35"/>
<circle cx="321.27" cy="306.77" r="1.85" fill="url(#mk2)" stroke="#333" stroke-width="0.5"/>
<circle cx="362.81" cy="278.97" r="1.85" fill="url(#mk2)" stroke="#333" stroke-width="0.5"/>
<circle cx="404.35" cy="251.17" r="1.85" fill="url(#mk2)" stroke="#333" stroke-width="0.5"/>
<circle cx="445.89" cy="225.63" r="1.85" fill="url(#mk2)" stroke="#333" stroke-width="0.5"/>
<circle cx="487.43" cy="198.35" r="1.85" fill="url(#mk2)" stroke="#333" stroke-width="0.5"/>
<polyline fill="none" stroke="#f42c2c" stroke-width="1.15" points="321.27,313.65 362.81,226.17 404.35,196.15 445.89,193.18 487.43,215.61"/>
<circle cx="321.27" cy="313.65" r="1.6" fill="url(#mr2)"/>
<circle cx="362.81" cy="226.17" r="1.6" fill="url(#mr2)"/>
<circle cx="404.35" cy="196.15" r="1.6" fill="url(#mr2)"/>
<circle cx="445.89" cy="193.18" r="1.6" fill="url(#mr2)"/>
<circle cx="487.43" cy="215.61" r="1.6" fill="url(#mr2)"/>
<path d="M321.27 323.1L321.27 320.3M321.27 184.1L321.27 186.9M362.81 323.1L362.81 320.3M362.81 184.1L362.81 186.9M404.35 323.1L404.35 320.3M404.35 184.1L404.35 186.9M445.89 323.1L445.89 320.3M445.89 184.1L445.89 186.9M487.43 323.1L487.43 320.3M487.43 184.1L487.43 186.9M342.04 323.1L342.04 321.5M342.04 184.1L342.04 185.7M383.58 323.1L383.58 321.5M383.58 184.1L383.58 185.7M425.12 323.1L425.12 321.5M425.12 184.1L425.12 185.7M466.66 323.1L466.66 321.5M466.66 184.1L466.66 185.7M300.5 314.41L303.3 314.41M300.5 297.04L303.3 297.04M300.5 279.66L303.3 279.66M300.5 262.29L303.3 262.29M300.5 244.91L303.3 244.91M300.5 227.54L303.3 227.54M300.5 210.16L303.3 210.16M300.5 192.79L303.3 192.79M300.5 305.73L302.1 305.73M300.5 288.35L302.1 288.35M300.5 270.98L302.1 270.98M300.5 253.6L302.1 253.6M300.5 236.23L302.1 236.23M300.5 218.85L302.1 218.85M300.5 201.47L302.1 201.47" stroke="#000" stroke-width="1.0" fill="none"/>
<rect x="300.5" y="184.1" width="207.7" height="139" fill="none" stroke="#000" stroke-width="1.1"/>
<line x1="508.2" y1="183.55" x2="508.2" y2="323.65" stroke="#ff2020" stroke-width="1.1"/>
<path d="M508.2 323.1L505.4 323.1M508.2 304.57L505.4 304.57M508.2 286.03L505.4 286.03M508.2 267.5L505.4 267.5M508.2 248.97L505.4 248.97M508.2 230.43L505.4 230.43M508.2 211.9L505.4 211.9M508.2 193.37L505.4 193.37M508.2 313.83L506.6 313.83M508.2 295.3L506.6 295.3M508.2 276.77L506.6 276.77M508.2 258.23L506.6 258.23M508.2 239.7L506.6 239.7M508.2 221.17L506.6 221.17M508.2 202.63L506.6 202.63" stroke="#ff2020" stroke-width="1.0" fill="none"/>
<text x="321.27" y="333.9" font-size="9.4" text-anchor="middle" fill="#000" color="#000" font-weight="bold">2.0</text>
<text x="362.81" y="333.9" font-size="9.4" text-anchor="middle" fill="#000" color="#000" font-weight="bold">2.5</text>
<text x="404.35" y="333.9" font-size="9.4" text-anchor="middle" fill="#000" color="#000" font-weight="bold">3.0</text>
<text x="445.89" y="333.9" font-size="9.4" text-anchor="middle" fill="#000" color="#000" font-weight="bold">3.5</text>
<text x="487.43" y="333.9" font-size="9.4" text-anchor="middle" fill="#000" color="#000" font-weight="bold">4.0</text>
<text x="297.3" y="317.61" font-size="9.3" text-anchor="end" fill="#000" color="#000" font-weight="bold">650</text>
<text x="297.3" y="300.24" font-size="9.3" text-anchor="end" fill="#000" color="#000" font-weight="bold">700</text>
<text x="297.3" y="282.86" font-size="9.3" text-anchor="end" fill="#000" color="#000" font-weight="bold">750</text>
<text x="297.3" y="265.49" font-size="9.3" text-anchor="end" fill="#000" color="#000" font-weight="bold">800</text>
<text x="297.3" y="248.11" font-size="9.3" text-anchor="end" fill="#000" color="#000" font-weight="bold">850</text>
<text x="297.3" y="230.74" font-size="9.3" text-anchor="end" fill="#000" color="#000" font-weight="bold">900</text>
<text x="297.3" y="213.36" font-size="9.3" text-anchor="end" fill="#000" color="#000" font-weight="bold">950</text>
<text x="297.3" y="195.99" font-size="9.3" text-anchor="end" fill="#000" color="#000" font-weight="bold">1000</text>
<text x="511.6" y="326.7" font-size="9.3" text-anchor="start" fill="#ff2020" color="#ff2020" font-weight="bold">0.20</text>
<text x="511.6" y="308.17" font-size="9.3" text-anchor="start" fill="#ff2020" color="#ff2020" font-weight="bold">0.22</text>
<text x="511.6" y="289.63" font-size="9.3" text-anchor="start" fill="#ff2020" color="#ff2020" font-weight="bold">0.24</text>
<text x="511.6" y="271.1" font-size="9.3" text-anchor="start" fill="#ff2020" color="#ff2020" font-weight="bold">0.26</text>
<text x="511.6" y="252.57" font-size="9.3" text-anchor="start" fill="#ff2020" color="#ff2020" font-weight="bold">0.28</text>
<text x="511.6" y="234.03" font-size="9.3" text-anchor="start" fill="#ff2020" color="#ff2020" font-weight="bold">0.30</text>
<text x="511.6" y="215.5" font-size="9.3" text-anchor="start" fill="#ff2020" color="#ff2020" font-weight="bold">0.32</text>
<text x="511.6" y="196.97" font-size="9.3" text-anchor="start" fill="#ff2020" color="#ff2020" font-weight="bold">0.34</text>
<text x="308.2" y="198.6" font-size="11.5" text-anchor="start" fill="#000" color="#000" font-weight="bold">(d)</text>
<text x="404.35" y="352.6" font-size="12" text-anchor="middle" font-weight="bold" font-style="italic">AR</text>
<g transform="translate(270.6 253.9) rotate(-90)" fill="#000" color="#000" font-weight="bold">
<text transform="translate(-24.81 0) skewX(-10)" font-size="14" font-style="italic" font-weight="normal" stroke-width="0.45">&#955;</text>
<text x="-18.59" y="1.7" font-size="12.5" xml:space="preserve">res</text>
<text x="-2.86" y="0" font-size="12" xml:space="preserve"> (nm)</text>
</g>
<g transform="translate(540.2 253.2) rotate(-90)" fill="#ff2020" color="#ff2020" font-weight="bold">
<text transform="translate(-39 0) skewX(-8)" font-size="12" font-style="italic">A</text>
<text x="-31" y="1.7" font-size="12" xml:space="preserve">abs,max</text>
<text x="11.34" y="0" font-size="12" xml:space="preserve"> (nm)</text>
</g>
<line x1="341.1" y1="290.9" x2="308.8" y2="290.9" stroke="#000" stroke-width="1.5"/>
<path d="M304 290.9L310 288.3L310 293.5Z" fill="#000"/>
<line x1="481" y1="209.6" x2="499" y2="209.6" stroke="#ff2020" stroke-width="1.5"/>
<path d="M503.8 209.6L497.8 207L497.8 212.2Z" fill="#ff2020"/>
</g>
</svg>
</body></html>
